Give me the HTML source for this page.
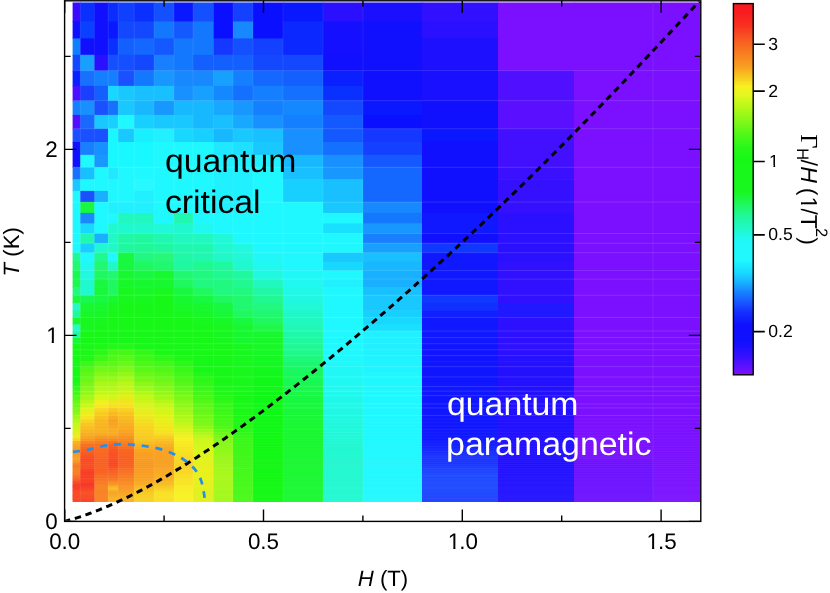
<!DOCTYPE html><html><head><meta charset="utf-8"><style>html,body{margin:0;padding:0;background:#fff;width:830px;height:593px;overflow:hidden}</style></head><body><svg width="830" height="593" viewBox="0 0 830 593" style="display:block" text-rendering="geometricPrecision"><rect x="0" y="0" width="830" height="593" fill="#fff"/><g><rect x="72.6" y="2.50" width="8.3" height="19.55" fill="#3a0aff"/><rect x="72.6" y="21.45" width="8.3" height="17.55" fill="#1010ff"/><rect x="72.6" y="38.40" width="8.3" height="16.97" fill="#1080ff"/><rect x="72.6" y="54.77" width="8.3" height="16.42" fill="#1448ff"/><rect x="72.6" y="70.59" width="8.3" height="15.88" fill="#0a20ff"/><rect x="72.6" y="85.87" width="8.3" height="15.36" fill="#4a10ff"/><rect x="72.6" y="100.63" width="8.3" height="14.86" fill="#1480ff"/><rect x="72.6" y="114.90" width="8.3" height="14.38" fill="#5010ff"/><rect x="72.6" y="128.68" width="8.3" height="13.91" fill="#1a50ff"/><rect x="72.6" y="141.99" width="8.3" height="25.89" fill="#1010ff"/><rect x="72.6" y="167.28" width="8.3" height="12.60" fill="#1a70ff"/><rect x="72.6" y="179.28" width="8.3" height="12.20" fill="#18c8ff"/><rect x="72.6" y="190.88" width="8.3" height="62.38" fill="#20f8ff"/><rect x="72.6" y="252.66" width="8.3" height="9.71" fill="#20f890"/><rect x="72.6" y="261.77" width="8.3" height="9.40" fill="#20f870"/><rect x="72.6" y="270.57" width="8.3" height="17.32" fill="#18f850"/><rect x="72.6" y="287.28" width="8.3" height="8.54" fill="#20f880"/><rect x="72.6" y="295.22" width="8.3" height="8.27" fill="#18f840"/><rect x="72.6" y="302.89" width="8.3" height="8.01" fill="#28f8c8"/><rect x="72.6" y="310.30" width="8.3" height="7.76" fill="#20f8a0"/><rect x="72.6" y="317.45" width="8.3" height="7.51" fill="#18f830"/><rect x="72.6" y="324.36" width="8.3" height="7.28" fill="#28f8c8"/><rect x="72.6" y="331.04" width="8.3" height="7.05" fill="#20f8a0"/><rect x="72.6" y="337.50" width="8.3" height="6.83" fill="#18f838"/><rect x="72.6" y="343.73" width="8.3" height="38.71" fill="#18f818"/><rect x="72.6" y="381.84" width="8.3" height="5.33" fill="#23f818"/><rect x="72.6" y="386.57" width="8.3" height="5.17" fill="#33f818"/><rect x="72.6" y="391.14" width="8.3" height="5.02" fill="#43f818"/><rect x="72.6" y="395.55" width="8.3" height="4.87" fill="#54f818"/><rect x="72.6" y="399.82" width="8.3" height="4.72" fill="#63f818"/><rect x="72.6" y="403.94" width="8.3" height="4.58" fill="#70f818"/><rect x="72.6" y="407.92" width="8.3" height="4.45" fill="#7df818"/><rect x="72.6" y="411.77" width="8.3" height="4.32" fill="#8bf818"/><rect x="72.6" y="415.49" width="8.3" height="4.19" fill="#9ff818"/><rect x="72.6" y="419.08" width="8.3" height="4.07" fill="#b2f818"/><rect x="72.6" y="422.54" width="8.3" height="3.95" fill="#c4f818"/><rect x="72.6" y="425.90" width="8.3" height="3.84" fill="#d0f518"/><rect x="72.6" y="429.13" width="8.3" height="3.73" fill="#d9f218"/><rect x="72.6" y="432.26" width="8.3" height="3.62" fill="#e4ef19"/><rect x="72.6" y="435.28" width="8.3" height="3.52" fill="#f2ea1e"/><rect x="72.6" y="438.20" width="8.3" height="3.42" fill="#f8d420"/><rect x="72.6" y="441.02" width="8.3" height="3.32" fill="#f8b120"/><rect x="72.6" y="443.75" width="8.3" height="3.23" fill="#f8a720"/><rect x="72.6" y="446.38" width="8.3" height="3.14" fill="#f89f20"/><rect x="72.6" y="448.92" width="8.3" height="3.06" fill="#f89620"/><rect x="72.6" y="451.38" width="8.3" height="2.97" fill="#f89120"/><rect x="72.6" y="453.75" width="8.3" height="2.89" fill="#f89620"/><rect x="72.6" y="456.05" width="8.3" height="2.82" fill="#f89a20"/><rect x="72.6" y="458.26" width="8.3" height="2.74" fill="#f89f20"/><rect x="72.6" y="460.40" width="8.3" height="2.67" fill="#f89620"/><rect x="72.6" y="462.47" width="8.3" height="2.60" fill="#f88720"/><rect x="72.6" y="464.47" width="8.3" height="2.53" fill="#f87820"/><rect x="72.6" y="466.40" width="8.3" height="2.46" fill="#f87a20"/><rect x="72.6" y="468.26" width="8.3" height="2.40" fill="#f87d20"/><rect x="72.6" y="470.06" width="8.3" height="2.34" fill="#f87f20"/><rect x="72.6" y="471.80" width="8.3" height="2.28" fill="#f87d20"/><rect x="72.6" y="473.48" width="8.3" height="2.22" fill="#f87620"/><rect x="72.6" y="475.11" width="8.3" height="2.17" fill="#f86e20"/><rect x="72.6" y="476.68" width="8.3" height="2.12" fill="#f86720"/><rect x="72.6" y="478.19" width="8.3" height="2.06" fill="#f86020"/><rect x="72.6" y="479.66" width="8.3" height="2.01" fill="#f85720"/><rect x="72.6" y="481.07" width="8.3" height="1.97" fill="#f84d20"/><rect x="72.6" y="482.44" width="8.3" height="1.92" fill="#f84420"/><rect x="72.6" y="483.76" width="8.3" height="1.88" fill="#f83b20"/><rect x="72.6" y="485.04" width="8.3" height="1.83" fill="#f83220"/><rect x="72.6" y="486.27" width="8.3" height="1.79" fill="#f83320"/><rect x="72.6" y="487.46" width="8.3" height="1.75" fill="#f83820"/><rect x="72.6" y="488.61" width="8.3" height="1.71" fill="#f83c20"/><rect x="72.6" y="489.72" width="8.3" height="1.67" fill="#f84020"/><rect x="72.6" y="490.80" width="8.3" height="1.64" fill="#f84420"/><rect x="72.6" y="491.83" width="8.3" height="2.57" fill="#f84720"/><rect x="72.6" y="493.80" width="8.3" height="1.54" fill="#f84620"/><rect x="72.6" y="494.74" width="8.3" height="1.50" fill="#f84520"/><rect x="72.6" y="495.64" width="8.3" height="1.47" fill="#f84420"/><rect x="72.6" y="496.52" width="8.3" height="1.44" fill="#f84320"/><rect x="72.6" y="497.36" width="8.3" height="1.41" fill="#f84220"/><rect x="72.6" y="498.18" width="8.3" height="1.39" fill="#f84120"/><rect x="72.6" y="498.96" width="8.3" height="3.04" fill="#f84020"/><rect x="80.3" y="2.50" width="14.7" height="19.55" fill="#0a30ff"/><rect x="80.3" y="21.45" width="14.7" height="17.55" fill="#0a40ff"/><rect x="80.3" y="38.40" width="14.7" height="16.97" fill="#1010ff"/><rect x="80.3" y="54.77" width="14.7" height="16.42" fill="#18a0ff"/><rect x="80.3" y="70.59" width="14.7" height="15.88" fill="#1870ff"/><rect x="80.3" y="85.87" width="14.7" height="15.36" fill="#1a40ff"/><rect x="80.3" y="100.63" width="14.7" height="14.86" fill="#1890ff"/><rect x="80.3" y="114.90" width="14.7" height="14.38" fill="#1a68ff"/><rect x="80.3" y="128.68" width="14.7" height="13.91" fill="#1a50ff"/><rect x="80.3" y="141.99" width="14.7" height="13.46" fill="#1880ff"/><rect x="80.3" y="154.85" width="14.7" height="13.03" fill="#20f8ff"/><rect x="80.3" y="167.28" width="14.7" height="12.60" fill="#18c0ff"/><rect x="80.3" y="179.28" width="14.7" height="12.20" fill="#20f8ff"/><rect x="80.3" y="190.88" width="14.7" height="11.80" fill="#1a50ff"/><rect x="80.3" y="202.08" width="14.7" height="11.42" fill="#18f840"/><rect x="80.3" y="212.91" width="14.7" height="11.06" fill="#1a88ff"/><rect x="80.3" y="223.36" width="14.7" height="10.70" fill="#18d8ff"/><rect x="80.3" y="233.47" width="14.7" height="10.36" fill="#20f8b0"/><rect x="80.3" y="243.23" width="14.7" height="10.03" fill="#18d0ff"/><rect x="80.3" y="252.66" width="14.7" height="9.71" fill="#20f8ff"/><rect x="80.3" y="261.77" width="14.7" height="9.40" fill="#20f8f0"/><rect x="80.3" y="270.57" width="14.7" height="9.10" fill="#20f8e0"/><rect x="80.3" y="279.07" width="14.7" height="16.75" fill="#20f8d0"/><rect x="80.3" y="295.22" width="14.7" height="8.27" fill="#18f850"/><rect x="80.3" y="302.89" width="14.7" height="8.01" fill="#18f830"/><rect x="80.3" y="310.30" width="14.7" height="7.76" fill="#18f828"/><rect x="80.3" y="317.45" width="14.7" height="14.19" fill="#18f820"/><rect x="80.3" y="331.04" width="14.7" height="13.29" fill="#18f818"/><rect x="80.3" y="343.73" width="14.7" height="6.62" fill="#19f818"/><rect x="80.3" y="349.75" width="14.7" height="6.42" fill="#1df818"/><rect x="80.3" y="355.57" width="14.7" height="6.22" fill="#22f818"/><rect x="80.3" y="361.19" width="14.7" height="6.03" fill="#3cf818"/><rect x="80.3" y="366.62" width="14.7" height="5.85" fill="#53f818"/><rect x="80.3" y="371.87" width="14.7" height="5.67" fill="#5ff818"/><rect x="80.3" y="376.94" width="14.7" height="5.50" fill="#6bf818"/><rect x="80.3" y="381.84" width="14.7" height="5.33" fill="#79f818"/><rect x="80.3" y="386.57" width="14.7" height="5.17" fill="#87f818"/><rect x="80.3" y="391.14" width="14.7" height="5.02" fill="#95f818"/><rect x="80.3" y="395.55" width="14.7" height="4.87" fill="#a5f818"/><rect x="80.3" y="399.82" width="14.7" height="4.72" fill="#b8f818"/><rect x="80.3" y="403.94" width="14.7" height="4.58" fill="#cbf818"/><rect x="80.3" y="407.92" width="14.7" height="4.45" fill="#dcf619"/><rect x="80.3" y="411.77" width="14.7" height="4.32" fill="#ecee1d"/><rect x="80.3" y="415.49" width="14.7" height="4.19" fill="#f8e420"/><rect x="80.3" y="419.08" width="14.7" height="4.07" fill="#f8d520"/><rect x="80.3" y="422.54" width="14.7" height="3.95" fill="#f8c720"/><rect x="80.3" y="425.90" width="14.7" height="3.84" fill="#f8bf20"/><rect x="80.3" y="429.13" width="14.7" height="3.73" fill="#f8b620"/><rect x="80.3" y="432.26" width="14.7" height="3.62" fill="#f8ae20"/><rect x="80.3" y="435.28" width="14.7" height="3.52" fill="#f8a520"/><rect x="80.3" y="438.20" width="14.7" height="3.42" fill="#f89820"/><rect x="80.3" y="441.02" width="14.7" height="3.32" fill="#f88320"/><rect x="80.3" y="443.75" width="14.7" height="3.23" fill="#f87020"/><rect x="80.3" y="446.38" width="14.7" height="3.14" fill="#f86820"/><rect x="80.3" y="448.92" width="14.7" height="3.06" fill="#f86120"/><rect x="80.3" y="451.38" width="14.7" height="2.97" fill="#f85a20"/><rect x="80.3" y="453.75" width="14.7" height="2.89" fill="#f85320"/><rect x="80.3" y="456.05" width="14.7" height="2.82" fill="#f84d20"/><rect x="80.3" y="458.26" width="14.7" height="2.74" fill="#f84920"/><rect x="80.3" y="460.40" width="14.7" height="2.67" fill="#f84b20"/><rect x="80.3" y="462.47" width="14.7" height="2.60" fill="#f84e20"/><rect x="80.3" y="464.47" width="14.7" height="2.53" fill="#f85020"/><rect x="80.3" y="466.40" width="14.7" height="2.46" fill="#f84920"/><rect x="80.3" y="468.26" width="14.7" height="2.40" fill="#f84220"/><rect x="80.3" y="470.06" width="14.7" height="2.34" fill="#f83c20"/><rect x="80.3" y="471.80" width="14.7" height="2.28" fill="#f83920"/><rect x="80.3" y="473.48" width="14.7" height="2.22" fill="#f83b20"/><rect x="80.3" y="475.11" width="14.7" height="2.17" fill="#f83c20"/><rect x="80.3" y="476.68" width="14.7" height="2.12" fill="#f83e20"/><rect x="80.3" y="478.19" width="14.7" height="2.06" fill="#f84020"/><rect x="80.3" y="479.66" width="14.7" height="2.01" fill="#f83d20"/><rect x="80.3" y="481.07" width="14.7" height="1.97" fill="#f83a20"/><rect x="80.3" y="482.44" width="14.7" height="1.92" fill="#f83620"/><rect x="80.3" y="483.76" width="14.7" height="1.88" fill="#f83320"/><rect x="80.3" y="485.04" width="14.7" height="1.83" fill="#f83020"/><rect x="80.3" y="486.27" width="14.7" height="1.79" fill="#f83520"/><rect x="80.3" y="487.46" width="14.7" height="1.75" fill="#f83b20"/><rect x="80.3" y="488.61" width="14.7" height="1.71" fill="#f84020"/><rect x="80.3" y="489.72" width="14.7" height="1.67" fill="#f84520"/><rect x="80.3" y="490.80" width="14.7" height="1.64" fill="#f84a20"/><rect x="80.3" y="491.83" width="14.7" height="1.60" fill="#f84f20"/><rect x="80.3" y="492.84" width="14.7" height="1.57" fill="#f84e20"/><rect x="80.3" y="493.80" width="14.7" height="1.54" fill="#f84c20"/><rect x="80.3" y="494.74" width="14.7" height="1.50" fill="#f84920"/><rect x="80.3" y="495.64" width="14.7" height="1.47" fill="#f84720"/><rect x="80.3" y="496.52" width="14.7" height="1.44" fill="#f84520"/><rect x="80.3" y="497.36" width="14.7" height="1.41" fill="#f84320"/><rect x="80.3" y="498.18" width="14.7" height="1.39" fill="#f84120"/><rect x="80.3" y="498.96" width="14.7" height="3.04" fill="#f84020"/><rect x="94.4" y="2.50" width="14.3" height="52.87" fill="#1010ff"/><rect x="94.4" y="54.77" width="14.3" height="16.42" fill="#2a10ff"/><rect x="94.4" y="70.59" width="14.3" height="15.88" fill="#1480ff"/><rect x="94.4" y="85.87" width="14.3" height="15.36" fill="#1460ff"/><rect x="94.4" y="100.63" width="14.3" height="14.86" fill="#1a50ff"/><rect x="94.4" y="114.90" width="14.3" height="14.38" fill="#18c8ff"/><rect x="94.4" y="128.68" width="14.3" height="13.91" fill="#1a50ff"/><rect x="94.4" y="141.99" width="14.3" height="13.46" fill="#1890ff"/><rect x="94.4" y="154.85" width="14.3" height="13.03" fill="#1898ff"/><rect x="94.4" y="167.28" width="14.3" height="24.20" fill="#20f8ff"/><rect x="94.4" y="190.88" width="14.3" height="11.80" fill="#18b0ff"/><rect x="94.4" y="202.08" width="14.3" height="31.98" fill="#20f8ff"/><rect x="94.4" y="233.47" width="14.3" height="10.36" fill="#18b0ff"/><rect x="94.4" y="243.23" width="14.3" height="10.03" fill="#20f8d0"/><rect x="94.4" y="252.66" width="14.3" height="9.71" fill="#20f890"/><rect x="94.4" y="261.77" width="14.3" height="9.40" fill="#20f870"/><rect x="94.4" y="270.57" width="14.3" height="9.10" fill="#20f860"/><rect x="94.4" y="279.07" width="14.3" height="8.81" fill="#18f840"/><rect x="94.4" y="287.28" width="14.3" height="8.54" fill="#18f838"/><rect x="94.4" y="295.22" width="14.3" height="8.27" fill="#18f840"/><rect x="94.4" y="302.89" width="14.3" height="8.01" fill="#18f830"/><rect x="94.4" y="310.30" width="14.3" height="7.76" fill="#18f828"/><rect x="94.4" y="317.45" width="14.3" height="7.51" fill="#18f820"/><rect x="94.4" y="324.36" width="14.3" height="19.97" fill="#18f818"/><rect x="94.4" y="343.73" width="14.3" height="6.62" fill="#1df818"/><rect x="94.4" y="349.75" width="14.3" height="6.42" fill="#2df818"/><rect x="94.4" y="355.57" width="14.3" height="6.22" fill="#3ff818"/><rect x="94.4" y="361.19" width="14.3" height="6.03" fill="#58f818"/><rect x="94.4" y="366.62" width="14.3" height="5.85" fill="#71f818"/><rect x="94.4" y="371.87" width="14.3" height="5.67" fill="#85f818"/><rect x="94.4" y="376.94" width="14.3" height="5.50" fill="#98f818"/><rect x="94.4" y="381.84" width="14.3" height="5.33" fill="#a9f818"/><rect x="94.4" y="386.57" width="14.3" height="5.17" fill="#b7f818"/><rect x="94.4" y="391.14" width="14.3" height="5.02" fill="#c5f818"/><rect x="94.4" y="395.55" width="14.3" height="4.87" fill="#d5f719"/><rect x="94.4" y="399.82" width="14.3" height="4.72" fill="#ecf21e"/><rect x="94.4" y="403.94" width="14.3" height="4.58" fill="#f8e820"/><rect x="94.4" y="407.92" width="14.3" height="4.45" fill="#f8d820"/><rect x="94.4" y="411.77" width="14.3" height="4.32" fill="#f8cb20"/><rect x="94.4" y="415.49" width="14.3" height="4.19" fill="#f8c220"/><rect x="94.4" y="419.08" width="14.3" height="4.07" fill="#f8b820"/><rect x="94.4" y="422.54" width="14.3" height="3.95" fill="#f8b620"/><rect x="94.4" y="425.90" width="14.3" height="3.84" fill="#f8b420"/><rect x="94.4" y="429.13" width="14.3" height="3.73" fill="#f8b220"/><rect x="94.4" y="432.26" width="14.3" height="3.62" fill="#f8ac20"/><rect x="94.4" y="435.28" width="14.3" height="3.52" fill="#f89a20"/><rect x="94.4" y="438.20" width="14.3" height="3.42" fill="#f88b20"/><rect x="94.4" y="441.02" width="14.3" height="3.32" fill="#f87d20"/><rect x="94.4" y="443.75" width="14.3" height="3.23" fill="#f87020"/><rect x="94.4" y="446.38" width="14.3" height="3.14" fill="#f86d20"/><rect x="94.4" y="448.92" width="14.3" height="3.06" fill="#f86a20"/><rect x="94.4" y="451.38" width="14.3" height="2.97" fill="#f86720"/><rect x="94.4" y="453.75" width="14.3" height="2.89" fill="#f86520"/><rect x="94.4" y="456.05" width="14.3" height="2.82" fill="#f86220"/><rect x="94.4" y="458.26" width="14.3" height="14.14" fill="#f86020"/><rect x="94.4" y="471.80" width="14.3" height="2.28" fill="#f86120"/><rect x="94.4" y="473.48" width="14.3" height="2.22" fill="#f86520"/><rect x="94.4" y="475.11" width="14.3" height="2.17" fill="#f86920"/><rect x="94.4" y="476.68" width="14.3" height="2.12" fill="#f86c20"/><rect x="94.4" y="478.19" width="14.3" height="2.06" fill="#f87020"/><rect x="94.4" y="479.66" width="14.3" height="2.01" fill="#f87320"/><rect x="94.4" y="481.07" width="14.3" height="1.97" fill="#f87620"/><rect x="94.4" y="482.44" width="14.3" height="1.92" fill="#f87a20"/><rect x="94.4" y="483.76" width="14.3" height="1.88" fill="#f87d20"/><rect x="94.4" y="485.04" width="14.3" height="16.96" fill="#f88020"/><rect x="108.1" y="2.50" width="10.6" height="19.55" fill="#0a2cff"/><rect x="108.1" y="21.45" width="10.6" height="17.55" fill="#0a18ff"/><rect x="108.1" y="38.40" width="10.6" height="16.97" fill="#0a30ff"/><rect x="108.1" y="54.77" width="10.6" height="16.42" fill="#1450ff"/><rect x="108.1" y="70.59" width="10.6" height="15.88" fill="#1480ff"/><rect x="108.1" y="85.87" width="10.6" height="15.36" fill="#18d8ff"/><rect x="108.1" y="100.63" width="10.6" height="14.86" fill="#1870ff"/><rect x="108.1" y="114.90" width="10.6" height="14.38" fill="#18d0ff"/><rect x="108.1" y="128.68" width="10.6" height="39.20" fill="#18f8ff"/><rect x="108.1" y="167.28" width="10.6" height="12.60" fill="#20e8ff"/><rect x="108.1" y="179.28" width="10.6" height="23.40" fill="#20f8ff"/><rect x="108.1" y="202.08" width="10.6" height="11.42" fill="#20f0ff"/><rect x="108.1" y="212.91" width="10.6" height="11.06" fill="#20f8ff"/><rect x="108.1" y="223.36" width="10.6" height="10.70" fill="#20f8d0"/><rect x="108.1" y="233.47" width="10.6" height="19.79" fill="#20f8c8"/><rect x="108.1" y="252.66" width="10.6" height="9.71" fill="#20f8ff"/><rect x="108.1" y="261.77" width="10.6" height="9.40" fill="#20f8c8"/><rect x="108.1" y="270.57" width="10.6" height="9.10" fill="#20f870"/><rect x="108.1" y="279.07" width="10.6" height="16.75" fill="#20f860"/><rect x="108.1" y="295.22" width="10.6" height="8.27" fill="#18f830"/><rect x="108.1" y="302.89" width="10.6" height="8.01" fill="#18f820"/><rect x="108.1" y="310.30" width="10.6" height="34.04" fill="#18f818"/><rect x="108.1" y="343.73" width="10.6" height="6.62" fill="#24f818"/><rect x="108.1" y="349.75" width="10.6" height="6.42" fill="#44f818"/><rect x="108.1" y="355.57" width="10.6" height="6.22" fill="#50f818"/><rect x="108.1" y="361.19" width="10.6" height="6.03" fill="#5cf818"/><rect x="108.1" y="366.62" width="10.6" height="5.85" fill="#6df818"/><rect x="108.1" y="371.87" width="10.6" height="5.67" fill="#83f818"/><rect x="108.1" y="376.94" width="10.6" height="5.50" fill="#97f818"/><rect x="108.1" y="381.84" width="10.6" height="5.33" fill="#a9f818"/><rect x="108.1" y="386.57" width="10.6" height="5.17" fill="#b7f818"/><rect x="108.1" y="391.14" width="10.6" height="5.02" fill="#c5f818"/><rect x="108.1" y="395.55" width="10.6" height="4.87" fill="#d4f519"/><rect x="108.1" y="399.82" width="10.6" height="4.72" fill="#e7ea1d"/><rect x="108.1" y="403.94" width="10.6" height="4.58" fill="#f8df20"/><rect x="108.1" y="407.92" width="10.6" height="4.45" fill="#f8ca20"/><rect x="108.1" y="411.77" width="10.6" height="4.32" fill="#f8ba20"/><rect x="108.1" y="415.49" width="10.6" height="4.19" fill="#f8ad20"/><rect x="108.1" y="419.08" width="10.6" height="4.07" fill="#f8a120"/><rect x="108.1" y="422.54" width="10.6" height="3.95" fill="#f8a420"/><rect x="108.1" y="425.90" width="10.6" height="3.84" fill="#f8a920"/><rect x="108.1" y="429.13" width="10.6" height="3.73" fill="#f8ad20"/><rect x="108.1" y="432.26" width="10.6" height="3.62" fill="#f8ac20"/><rect x="108.1" y="435.28" width="10.6" height="3.52" fill="#f89a20"/><rect x="108.1" y="438.20" width="10.6" height="3.42" fill="#f88820"/><rect x="108.1" y="441.02" width="10.6" height="3.32" fill="#f87320"/><rect x="108.1" y="443.75" width="10.6" height="3.23" fill="#f86020"/><rect x="108.1" y="446.38" width="10.6" height="3.14" fill="#f85a20"/><rect x="108.1" y="448.92" width="10.6" height="3.06" fill="#f85420"/><rect x="108.1" y="451.38" width="10.6" height="2.97" fill="#f85020"/><rect x="108.1" y="453.75" width="10.6" height="2.89" fill="#f84e20"/><rect x="108.1" y="456.05" width="10.6" height="2.82" fill="#f84d20"/><rect x="108.1" y="458.26" width="10.6" height="2.74" fill="#f84c20"/><rect x="108.1" y="460.40" width="10.6" height="2.67" fill="#f84a20"/><rect x="108.1" y="462.47" width="10.6" height="2.60" fill="#f84920"/><rect x="108.1" y="464.47" width="10.6" height="2.53" fill="#f84820"/><rect x="108.1" y="466.40" width="10.6" height="2.46" fill="#f84f20"/><rect x="108.1" y="468.26" width="10.6" height="2.40" fill="#f85620"/><rect x="108.1" y="470.06" width="10.6" height="2.34" fill="#f85c20"/><rect x="108.1" y="471.80" width="10.6" height="2.28" fill="#f86120"/><rect x="108.1" y="473.48" width="10.6" height="2.22" fill="#f86520"/><rect x="108.1" y="475.11" width="10.6" height="2.17" fill="#f86920"/><rect x="108.1" y="476.68" width="10.6" height="2.12" fill="#f86c20"/><rect x="108.1" y="478.19" width="10.6" height="2.06" fill="#f87020"/><rect x="108.1" y="479.66" width="10.6" height="2.01" fill="#f87a20"/><rect x="108.1" y="481.07" width="10.6" height="1.97" fill="#f88320"/><rect x="108.1" y="482.44" width="10.6" height="1.92" fill="#f88d20"/><rect x="108.1" y="483.76" width="10.6" height="1.88" fill="#f89620"/><rect x="108.1" y="485.04" width="10.6" height="1.83" fill="#f89f20"/><rect x="108.1" y="486.27" width="10.6" height="1.79" fill="#f8ad20"/><rect x="108.1" y="487.46" width="10.6" height="1.75" fill="#f8ba20"/><rect x="108.1" y="488.61" width="10.6" height="1.71" fill="#f8bb20"/><rect x="108.1" y="489.72" width="10.6" height="1.67" fill="#f8b220"/><rect x="108.1" y="490.80" width="10.6" height="1.64" fill="#f8a920"/><rect x="108.1" y="491.83" width="10.6" height="1.60" fill="#f8a120"/><rect x="108.1" y="492.84" width="10.6" height="1.57" fill="#f8a220"/><rect x="108.1" y="493.80" width="10.6" height="1.54" fill="#f8a420"/><rect x="108.1" y="494.74" width="10.6" height="1.50" fill="#f8a720"/><rect x="108.1" y="495.64" width="10.6" height="1.47" fill="#f8a920"/><rect x="108.1" y="496.52" width="10.6" height="1.44" fill="#f8ab20"/><rect x="108.1" y="497.36" width="10.6" height="1.41" fill="#f8ad20"/><rect x="108.1" y="498.18" width="10.6" height="1.39" fill="#f8af20"/><rect x="108.1" y="498.96" width="10.6" height="3.04" fill="#f8b020"/><rect x="118.1" y="2.50" width="16.6" height="19.55" fill="#1040ff"/><rect x="118.1" y="21.45" width="16.6" height="17.55" fill="#1448ff"/><rect x="118.1" y="38.40" width="16.6" height="16.97" fill="#1460ff"/><rect x="118.1" y="54.77" width="16.6" height="16.42" fill="#1450ff"/><rect x="118.1" y="70.59" width="16.6" height="15.88" fill="#1a50ff"/><rect x="118.1" y="85.87" width="16.6" height="29.63" fill="#18c8ff"/><rect x="118.1" y="114.90" width="16.6" height="14.38" fill="#20f8ff"/><rect x="118.1" y="128.68" width="16.6" height="13.91" fill="#18c8ff"/><rect x="118.1" y="141.99" width="16.6" height="25.89" fill="#18f8ff"/><rect x="118.1" y="167.28" width="16.6" height="35.41" fill="#20f8ff"/><rect x="118.1" y="202.08" width="16.6" height="11.42" fill="#20f0ff"/><rect x="118.1" y="212.91" width="16.6" height="11.06" fill="#20f8c0"/><rect x="118.1" y="223.36" width="16.6" height="10.70" fill="#20f8d0"/><rect x="118.1" y="233.47" width="16.6" height="10.36" fill="#20f8a8"/><rect x="118.1" y="243.23" width="16.6" height="10.03" fill="#20f8a0"/><rect x="118.1" y="252.66" width="16.6" height="18.51" fill="#18f840"/><rect x="118.1" y="270.57" width="16.6" height="9.10" fill="#18f830"/><rect x="118.1" y="279.07" width="16.6" height="8.81" fill="#18f828"/><rect x="118.1" y="287.28" width="16.6" height="16.20" fill="#18f820"/><rect x="118.1" y="302.89" width="16.6" height="41.44" fill="#18f818"/><rect x="118.1" y="343.73" width="16.6" height="6.62" fill="#24f818"/><rect x="118.1" y="349.75" width="16.6" height="6.42" fill="#45f818"/><rect x="118.1" y="355.57" width="16.6" height="6.22" fill="#58f818"/><rect x="118.1" y="361.19" width="16.6" height="6.03" fill="#69f818"/><rect x="118.1" y="366.62" width="16.6" height="5.85" fill="#7df818"/><rect x="118.1" y="371.87" width="16.6" height="5.67" fill="#93f818"/><rect x="118.1" y="376.94" width="16.6" height="5.50" fill="#a7f818"/><rect x="118.1" y="381.84" width="16.6" height="5.33" fill="#b9f718"/><rect x="118.1" y="386.57" width="16.6" height="5.17" fill="#c7f418"/><rect x="118.1" y="391.14" width="16.6" height="5.02" fill="#d5f218"/><rect x="118.1" y="395.55" width="16.6" height="4.87" fill="#e3ee19"/><rect x="118.1" y="399.82" width="16.6" height="4.72" fill="#eee71d"/><rect x="118.1" y="403.94" width="16.6" height="4.58" fill="#f8e020"/><rect x="118.1" y="407.92" width="16.6" height="4.45" fill="#f8d220"/><rect x="118.1" y="411.77" width="16.6" height="4.32" fill="#f8c420"/><rect x="118.1" y="415.49" width="16.6" height="4.19" fill="#f8bc20"/><rect x="118.1" y="419.08" width="16.6" height="4.07" fill="#f8b620"/><rect x="118.1" y="422.54" width="16.6" height="3.95" fill="#f8b020"/><rect x="118.1" y="425.90" width="16.6" height="3.84" fill="#f8aa20"/><rect x="118.1" y="429.13" width="16.6" height="3.73" fill="#f8a420"/><rect x="118.1" y="432.26" width="16.6" height="3.62" fill="#f89d20"/><rect x="118.1" y="435.28" width="16.6" height="3.52" fill="#f89320"/><rect x="118.1" y="438.20" width="16.6" height="3.42" fill="#f88a20"/><rect x="118.1" y="441.02" width="16.6" height="3.32" fill="#f88020"/><rect x="118.1" y="443.75" width="16.6" height="3.23" fill="#f87720"/><rect x="118.1" y="446.38" width="16.6" height="3.14" fill="#f86f20"/><rect x="118.1" y="448.92" width="16.6" height="3.06" fill="#f86620"/><rect x="118.1" y="451.38" width="16.6" height="15.62" fill="#f86020"/><rect x="118.1" y="466.40" width="16.6" height="2.46" fill="#f86420"/><rect x="118.1" y="468.26" width="16.6" height="2.40" fill="#f86920"/><rect x="118.1" y="470.06" width="16.6" height="2.34" fill="#f86d20"/><rect x="118.1" y="471.80" width="16.6" height="2.28" fill="#f87120"/><rect x="118.1" y="473.48" width="16.6" height="2.22" fill="#f87520"/><rect x="118.1" y="475.11" width="16.6" height="2.17" fill="#f87920"/><rect x="118.1" y="476.68" width="16.6" height="2.12" fill="#f87c20"/><rect x="118.1" y="478.19" width="16.6" height="2.06" fill="#f88020"/><rect x="118.1" y="479.66" width="16.6" height="2.01" fill="#f88320"/><rect x="118.1" y="481.07" width="16.6" height="1.97" fill="#f88620"/><rect x="118.1" y="482.44" width="16.6" height="1.92" fill="#f88a20"/><rect x="118.1" y="483.76" width="16.6" height="1.88" fill="#f88d20"/><rect x="118.1" y="485.04" width="16.6" height="1.83" fill="#f89020"/><rect x="118.1" y="486.27" width="16.6" height="1.79" fill="#f89320"/><rect x="118.1" y="487.46" width="16.6" height="1.75" fill="#f89520"/><rect x="118.1" y="488.61" width="16.6" height="1.71" fill="#f89820"/><rect x="118.1" y="489.72" width="16.6" height="1.67" fill="#f89b20"/><rect x="118.1" y="490.80" width="16.6" height="1.64" fill="#f89d20"/><rect x="118.1" y="491.83" width="16.6" height="1.60" fill="#f8a020"/><rect x="118.1" y="492.84" width="16.6" height="1.57" fill="#f8a220"/><rect x="118.1" y="493.80" width="16.6" height="1.54" fill="#f8a420"/><rect x="118.1" y="494.74" width="16.6" height="1.50" fill="#f8a720"/><rect x="118.1" y="495.64" width="16.6" height="1.47" fill="#f8a920"/><rect x="118.1" y="496.52" width="16.6" height="1.44" fill="#f8ab20"/><rect x="118.1" y="497.36" width="16.6" height="1.41" fill="#f8ad20"/><rect x="118.1" y="498.18" width="16.6" height="1.39" fill="#f8af20"/><rect x="118.1" y="498.96" width="16.6" height="3.04" fill="#f8b020"/><rect x="134.1" y="2.50" width="20.5" height="19.55" fill="#0a30ff"/><rect x="134.1" y="21.45" width="20.5" height="17.55" fill="#1448ff"/><rect x="134.1" y="38.40" width="20.5" height="16.97" fill="#1468ff"/><rect x="134.1" y="54.77" width="20.5" height="16.42" fill="#1448ff"/><rect x="134.1" y="70.59" width="20.5" height="15.88" fill="#1478ff"/><rect x="134.1" y="85.87" width="20.5" height="15.36" fill="#18c0ff"/><rect x="134.1" y="100.63" width="20.5" height="14.86" fill="#18b8ff"/><rect x="134.1" y="114.90" width="20.5" height="14.38" fill="#18d0ff"/><rect x="134.1" y="128.68" width="20.5" height="13.91" fill="#18f0ff"/><rect x="134.1" y="141.99" width="20.5" height="25.89" fill="#18f8ff"/><rect x="134.1" y="167.28" width="20.5" height="12.60" fill="#20f8ff"/><rect x="134.1" y="179.28" width="20.5" height="12.20" fill="#28f8ff"/><rect x="134.1" y="190.88" width="20.5" height="22.63" fill="#20f0ff"/><rect x="134.1" y="212.91" width="20.5" height="11.06" fill="#20f8c0"/><rect x="134.1" y="223.36" width="20.5" height="10.70" fill="#20f8d0"/><rect x="134.1" y="233.47" width="20.5" height="10.36" fill="#20f8a0"/><rect x="134.1" y="243.23" width="20.5" height="10.03" fill="#20f898"/><rect x="134.1" y="252.66" width="20.5" height="9.71" fill="#20f880"/><rect x="134.1" y="261.77" width="20.5" height="9.40" fill="#20f860"/><rect x="134.1" y="270.57" width="20.5" height="9.10" fill="#18f840"/><rect x="134.1" y="279.07" width="20.5" height="8.81" fill="#18f830"/><rect x="134.1" y="287.28" width="20.5" height="8.54" fill="#18f828"/><rect x="134.1" y="295.22" width="20.5" height="8.27" fill="#18f820"/><rect x="134.1" y="302.89" width="20.5" height="47.47" fill="#18f818"/><rect x="134.1" y="349.75" width="20.5" height="6.42" fill="#34f818"/><rect x="134.1" y="355.57" width="20.5" height="6.22" fill="#40f818"/><rect x="134.1" y="361.19" width="20.5" height="6.03" fill="#4cf818"/><rect x="134.1" y="366.62" width="20.5" height="5.85" fill="#5af818"/><rect x="134.1" y="371.87" width="20.5" height="5.67" fill="#6af818"/><rect x="134.1" y="376.94" width="20.5" height="5.50" fill="#79f818"/><rect x="134.1" y="381.84" width="20.5" height="5.33" fill="#8bf818"/><rect x="134.1" y="386.57" width="20.5" height="5.17" fill="#9ff818"/><rect x="134.1" y="391.14" width="20.5" height="5.02" fill="#b2f818"/><rect x="134.1" y="395.55" width="20.5" height="4.87" fill="#c3f719"/><rect x="134.1" y="399.82" width="20.5" height="4.72" fill="#cef51b"/><rect x="134.1" y="403.94" width="20.5" height="4.58" fill="#d8f31d"/><rect x="134.1" y="407.92" width="20.5" height="4.45" fill="#e3f11f"/><rect x="134.1" y="411.77" width="20.5" height="4.32" fill="#eaec20"/><rect x="134.1" y="415.49" width="20.5" height="4.19" fill="#efe520"/><rect x="134.1" y="419.08" width="20.5" height="4.07" fill="#f4de20"/><rect x="134.1" y="422.54" width="20.5" height="3.95" fill="#f8d820"/><rect x="134.1" y="425.90" width="20.5" height="3.84" fill="#f8d420"/><rect x="134.1" y="429.13" width="20.5" height="3.73" fill="#f8d120"/><rect x="134.1" y="432.26" width="20.5" height="3.62" fill="#f8ce20"/><rect x="134.1" y="435.28" width="20.5" height="3.52" fill="#f8cb20"/><rect x="134.1" y="438.20" width="20.5" height="3.42" fill="#f8c820"/><rect x="134.1" y="441.02" width="20.5" height="3.32" fill="#f8be20"/><rect x="134.1" y="443.75" width="20.5" height="3.23" fill="#f8b420"/><rect x="134.1" y="446.38" width="20.5" height="3.14" fill="#f8ac20"/><rect x="134.1" y="448.92" width="20.5" height="3.06" fill="#f8a520"/><rect x="134.1" y="451.38" width="20.5" height="2.97" fill="#f8a020"/><rect x="134.1" y="453.75" width="20.5" height="2.89" fill="#f89e20"/><rect x="134.1" y="456.05" width="20.5" height="2.82" fill="#f89d20"/><rect x="134.1" y="458.26" width="20.5" height="2.74" fill="#f89c20"/><rect x="134.1" y="460.40" width="20.5" height="2.67" fill="#f89a20"/><rect x="134.1" y="462.47" width="20.5" height="2.60" fill="#f89920"/><rect x="134.1" y="464.47" width="20.5" height="2.53" fill="#f89820"/><rect x="134.1" y="466.40" width="20.5" height="2.46" fill="#f89920"/><rect x="134.1" y="468.26" width="20.5" height="2.40" fill="#f89a20"/><rect x="134.1" y="470.06" width="20.5" height="2.34" fill="#f89b20"/><rect x="134.1" y="471.80" width="20.5" height="2.28" fill="#f89c20"/><rect x="134.1" y="473.48" width="20.5" height="2.22" fill="#f89d20"/><rect x="134.1" y="475.11" width="20.5" height="2.17" fill="#f89e20"/><rect x="134.1" y="476.68" width="20.5" height="2.12" fill="#f89f20"/><rect x="134.1" y="478.19" width="20.5" height="2.06" fill="#f8a020"/><rect x="134.1" y="479.66" width="20.5" height="2.01" fill="#f8a320"/><rect x="134.1" y="481.07" width="20.5" height="1.97" fill="#f8a620"/><rect x="134.1" y="482.44" width="20.5" height="1.92" fill="#f8aa20"/><rect x="134.1" y="483.76" width="20.5" height="1.88" fill="#f8ad20"/><rect x="134.1" y="485.04" width="20.5" height="1.83" fill="#f8b020"/><rect x="134.1" y="486.27" width="20.5" height="1.79" fill="#f8b420"/><rect x="134.1" y="487.46" width="20.5" height="1.75" fill="#f8b820"/><rect x="134.1" y="488.61" width="20.5" height="1.71" fill="#f8bc20"/><rect x="134.1" y="489.72" width="20.5" height="1.67" fill="#f8c020"/><rect x="134.1" y="490.80" width="20.5" height="1.64" fill="#f8c420"/><rect x="134.1" y="491.83" width="20.5" height="1.60" fill="#f8c720"/><rect x="134.1" y="492.84" width="20.5" height="1.57" fill="#f8c920"/><rect x="134.1" y="493.80" width="20.5" height="1.54" fill="#f8ca20"/><rect x="134.1" y="494.74" width="20.5" height="1.50" fill="#f8cb20"/><rect x="134.1" y="495.64" width="20.5" height="1.47" fill="#f8cc20"/><rect x="134.1" y="496.52" width="20.5" height="1.44" fill="#f8cd20"/><rect x="134.1" y="497.36" width="20.5" height="1.41" fill="#f8ce20"/><rect x="134.1" y="498.18" width="20.5" height="1.39" fill="#f8cf20"/><rect x="134.1" y="498.96" width="20.5" height="3.04" fill="#f8d020"/><rect x="154.0" y="2.50" width="20.6" height="19.55" fill="#1450ff"/><rect x="154.0" y="21.45" width="20.6" height="17.55" fill="#1478ff"/><rect x="154.0" y="38.40" width="20.6" height="16.97" fill="#1458ff"/><rect x="154.0" y="54.77" width="20.6" height="16.42" fill="#1880ff"/><rect x="154.0" y="70.59" width="20.6" height="15.88" fill="#1898ff"/><rect x="154.0" y="85.87" width="20.6" height="15.36" fill="#18c0ff"/><rect x="154.0" y="100.63" width="20.6" height="14.86" fill="#1898ff"/><rect x="154.0" y="114.90" width="20.6" height="14.38" fill="#18c8ff"/><rect x="154.0" y="128.68" width="20.6" height="13.91" fill="#20f0ff"/><rect x="154.0" y="141.99" width="20.6" height="81.97" fill="#20f8ff"/><rect x="154.0" y="223.36" width="20.6" height="10.70" fill="#20f8d8"/><rect x="154.0" y="233.47" width="20.6" height="10.36" fill="#20f8b0"/><rect x="154.0" y="243.23" width="20.6" height="10.03" fill="#20f8a0"/><rect x="154.0" y="252.66" width="20.6" height="9.71" fill="#28f878"/><rect x="154.0" y="261.77" width="20.6" height="9.40" fill="#20f870"/><rect x="154.0" y="270.57" width="20.6" height="17.32" fill="#18f830"/><rect x="154.0" y="287.28" width="20.6" height="8.54" fill="#18f820"/><rect x="154.0" y="295.22" width="20.6" height="55.13" fill="#18f818"/><rect x="154.0" y="349.75" width="20.6" height="6.42" fill="#1df818"/><rect x="154.0" y="355.57" width="20.6" height="6.22" fill="#2ff818"/><rect x="154.0" y="361.19" width="20.6" height="6.03" fill="#41f818"/><rect x="154.0" y="366.62" width="20.6" height="5.85" fill="#50f818"/><rect x="154.0" y="371.87" width="20.6" height="5.67" fill="#5ef818"/><rect x="154.0" y="376.94" width="20.6" height="5.50" fill="#6bf818"/><rect x="154.0" y="381.84" width="20.6" height="5.33" fill="#79f818"/><rect x="154.0" y="386.57" width="20.6" height="5.17" fill="#87f818"/><rect x="154.0" y="391.14" width="20.6" height="5.02" fill="#95f818"/><rect x="154.0" y="395.55" width="20.6" height="4.87" fill="#a4f818"/><rect x="154.0" y="399.82" width="20.6" height="4.72" fill="#b5f818"/><rect x="154.0" y="403.94" width="20.6" height="4.58" fill="#c5f818"/><rect x="154.0" y="407.92" width="20.6" height="4.45" fill="#d2f718"/><rect x="154.0" y="411.77" width="20.6" height="4.32" fill="#d9f518"/><rect x="154.0" y="415.49" width="20.6" height="4.19" fill="#e1f218"/><rect x="154.0" y="419.08" width="20.6" height="4.07" fill="#e8f018"/><rect x="154.0" y="422.54" width="20.6" height="3.95" fill="#ecec1a"/><rect x="154.0" y="425.90" width="20.6" height="3.84" fill="#f1e71c"/><rect x="154.0" y="429.13" width="20.6" height="3.73" fill="#f5e31e"/><rect x="154.0" y="432.26" width="20.6" height="3.62" fill="#f8dd20"/><rect x="154.0" y="435.28" width="20.6" height="3.52" fill="#f8d020"/><rect x="154.0" y="438.20" width="20.6" height="3.42" fill="#f8c420"/><rect x="154.0" y="441.02" width="20.6" height="3.32" fill="#f8ba20"/><rect x="154.0" y="443.75" width="20.6" height="3.23" fill="#f8b020"/><rect x="154.0" y="446.38" width="20.6" height="3.14" fill="#f8aa20"/><rect x="154.0" y="448.92" width="20.6" height="3.06" fill="#f8a420"/><rect x="154.0" y="451.38" width="20.6" height="15.62" fill="#f8a020"/><rect x="154.0" y="466.40" width="20.6" height="2.46" fill="#f8a220"/><rect x="154.0" y="468.26" width="20.6" height="2.40" fill="#f8a420"/><rect x="154.0" y="470.06" width="20.6" height="2.34" fill="#f8a620"/><rect x="154.0" y="471.80" width="20.6" height="2.28" fill="#f8a820"/><rect x="154.0" y="473.48" width="20.6" height="2.22" fill="#f8aa20"/><rect x="154.0" y="475.11" width="20.6" height="2.17" fill="#f8ac20"/><rect x="154.0" y="476.68" width="20.6" height="2.12" fill="#f8ae20"/><rect x="154.0" y="478.19" width="20.6" height="2.06" fill="#f8b020"/><rect x="154.0" y="479.66" width="20.6" height="2.01" fill="#f8b320"/><rect x="154.0" y="481.07" width="20.6" height="1.97" fill="#f8b620"/><rect x="154.0" y="482.44" width="20.6" height="1.92" fill="#f8ba20"/><rect x="154.0" y="483.76" width="20.6" height="1.88" fill="#f8bd20"/><rect x="154.0" y="485.04" width="20.6" height="1.83" fill="#f8c020"/><rect x="154.0" y="486.27" width="20.6" height="1.79" fill="#f8c520"/><rect x="154.0" y="487.46" width="20.6" height="1.75" fill="#f8cb20"/><rect x="154.0" y="488.61" width="20.6" height="1.71" fill="#f8d020"/><rect x="154.0" y="489.72" width="20.6" height="1.67" fill="#f8d520"/><rect x="154.0" y="490.80" width="20.6" height="1.64" fill="#f8da20"/><rect x="154.0" y="491.83" width="20.6" height="1.60" fill="#f8df20"/><rect x="154.0" y="492.84" width="20.6" height="9.16" fill="#f8e020"/><rect x="174.0" y="2.50" width="19.6" height="19.55" fill="#0a18ff"/><rect x="174.0" y="21.45" width="19.6" height="17.55" fill="#1458ff"/><rect x="174.0" y="38.40" width="19.6" height="32.79" fill="#1478ff"/><rect x="174.0" y="70.59" width="19.6" height="15.88" fill="#1888ff"/><rect x="174.0" y="85.87" width="19.6" height="15.36" fill="#1890ff"/><rect x="174.0" y="100.63" width="19.6" height="14.86" fill="#18b8ff"/><rect x="174.0" y="114.90" width="19.6" height="14.38" fill="#18c8ff"/><rect x="174.0" y="128.68" width="19.6" height="13.91" fill="#18d8ff"/><rect x="174.0" y="141.99" width="19.6" height="71.52" fill="#20f8ff"/><rect x="174.0" y="212.91" width="19.6" height="11.06" fill="#20f8b0"/><rect x="174.0" y="223.36" width="19.6" height="10.70" fill="#20f8d0"/><rect x="174.0" y="233.47" width="19.6" height="10.36" fill="#20f8c0"/><rect x="174.0" y="243.23" width="19.6" height="10.03" fill="#20f8b0"/><rect x="174.0" y="252.66" width="19.6" height="9.71" fill="#20f8a8"/><rect x="174.0" y="261.77" width="19.6" height="9.40" fill="#20f8a0"/><rect x="174.0" y="270.57" width="19.6" height="9.10" fill="#20f870"/><rect x="174.0" y="279.07" width="19.6" height="8.81" fill="#20f860"/><rect x="174.0" y="287.28" width="19.6" height="8.54" fill="#18f840"/><rect x="174.0" y="295.22" width="19.6" height="8.27" fill="#18f830"/><rect x="174.0" y="302.89" width="19.6" height="8.01" fill="#18f828"/><rect x="174.0" y="310.30" width="19.6" height="7.76" fill="#18f820"/><rect x="174.0" y="317.45" width="19.6" height="38.72" fill="#18f818"/><rect x="174.0" y="355.57" width="19.6" height="6.22" fill="#1ef818"/><rect x="174.0" y="361.19" width="19.6" height="6.03" fill="#2bf818"/><rect x="174.0" y="366.62" width="19.6" height="5.85" fill="#37f818"/><rect x="174.0" y="371.87" width="19.6" height="5.67" fill="#41f818"/><rect x="174.0" y="376.94" width="19.6" height="5.50" fill="#4cf818"/><rect x="174.0" y="381.84" width="19.6" height="5.33" fill="#57f818"/><rect x="174.0" y="386.57" width="19.6" height="5.17" fill="#63f818"/><rect x="174.0" y="391.14" width="19.6" height="5.02" fill="#6ff818"/><rect x="174.0" y="395.55" width="19.6" height="4.87" fill="#7bf818"/><rect x="174.0" y="399.82" width="19.6" height="4.72" fill="#86f818"/><rect x="174.0" y="403.94" width="19.6" height="4.58" fill="#90f818"/><rect x="174.0" y="407.92" width="19.6" height="4.45" fill="#9bf818"/><rect x="174.0" y="411.77" width="19.6" height="4.32" fill="#a5f818"/><rect x="174.0" y="415.49" width="19.6" height="4.19" fill="#aef818"/><rect x="174.0" y="419.08" width="19.6" height="4.07" fill="#b8f818"/><rect x="174.0" y="422.54" width="19.6" height="3.95" fill="#c4f719"/><rect x="174.0" y="425.90" width="19.6" height="3.84" fill="#d0f51b"/><rect x="174.0" y="429.13" width="19.6" height="3.73" fill="#dbf41c"/><rect x="174.0" y="432.26" width="19.6" height="3.62" fill="#e7f21e"/><rect x="174.0" y="435.28" width="19.6" height="3.52" fill="#f2f11f"/><rect x="174.0" y="438.20" width="19.6" height="3.42" fill="#f8ef20"/><rect x="174.0" y="441.02" width="19.6" height="3.32" fill="#f8eb20"/><rect x="174.0" y="443.75" width="19.6" height="3.23" fill="#f8e820"/><rect x="174.0" y="446.38" width="19.6" height="3.14" fill="#f8e520"/><rect x="174.0" y="448.92" width="19.6" height="3.06" fill="#f8e220"/><rect x="174.0" y="451.38" width="19.6" height="2.97" fill="#f8df20"/><rect x="174.0" y="453.75" width="19.6" height="2.89" fill="#f8dd20"/><rect x="174.0" y="456.05" width="19.6" height="2.82" fill="#f8da20"/><rect x="174.0" y="458.26" width="19.6" height="2.74" fill="#f8d720"/><rect x="174.0" y="460.40" width="19.6" height="2.67" fill="#f8d520"/><rect x="174.0" y="462.47" width="19.6" height="2.60" fill="#f8d220"/><rect x="174.0" y="464.47" width="19.6" height="2.53" fill="#f8d020"/><rect x="174.0" y="466.40" width="19.6" height="2.46" fill="#f8d220"/><rect x="174.0" y="468.26" width="19.6" height="2.40" fill="#f8d420"/><rect x="174.0" y="470.06" width="19.6" height="2.34" fill="#f8d620"/><rect x="174.0" y="471.80" width="19.6" height="2.28" fill="#f8d820"/><rect x="174.0" y="473.48" width="19.6" height="2.22" fill="#f8da20"/><rect x="174.0" y="475.11" width="19.6" height="2.17" fill="#f8dc20"/><rect x="174.0" y="476.68" width="19.6" height="2.12" fill="#f8de20"/><rect x="174.0" y="478.19" width="19.6" height="2.06" fill="#f8e020"/><rect x="174.0" y="479.66" width="19.6" height="2.01" fill="#f8e220"/><rect x="174.0" y="481.07" width="19.6" height="1.97" fill="#f8e320"/><rect x="174.0" y="482.44" width="19.6" height="1.92" fill="#f8e520"/><rect x="174.0" y="483.76" width="19.6" height="1.88" fill="#f8e620"/><rect x="174.0" y="485.04" width="19.6" height="1.83" fill="#f8e820"/><rect x="174.0" y="486.27" width="19.6" height="1.79" fill="#f8e920"/><rect x="174.0" y="487.46" width="19.6" height="1.75" fill="#f8eb20"/><rect x="174.0" y="488.61" width="19.6" height="1.71" fill="#f8ec20"/><rect x="174.0" y="489.72" width="19.6" height="1.67" fill="#f8ed20"/><rect x="174.0" y="490.80" width="19.6" height="1.64" fill="#f8ef20"/><rect x="174.0" y="491.83" width="19.6" height="10.17" fill="#f8f020"/><rect x="193.0" y="2.50" width="21.1" height="19.55" fill="#1450ff"/><rect x="193.0" y="21.45" width="21.1" height="33.92" fill="#1478ff"/><rect x="193.0" y="54.77" width="21.1" height="16.42" fill="#1460ff"/><rect x="193.0" y="70.59" width="21.1" height="15.88" fill="#1888ff"/><rect x="193.0" y="85.87" width="21.1" height="15.36" fill="#18a0ff"/><rect x="193.0" y="100.63" width="21.1" height="28.64" fill="#18b8ff"/><rect x="193.0" y="128.68" width="21.1" height="13.91" fill="#18d0ff"/><rect x="193.0" y="141.99" width="21.1" height="81.97" fill="#20f8ff"/><rect x="193.0" y="223.36" width="21.1" height="10.70" fill="#20f8f0"/><rect x="193.0" y="233.47" width="21.1" height="10.36" fill="#20f8c0"/><rect x="193.0" y="243.23" width="21.1" height="19.14" fill="#20f8b0"/><rect x="193.0" y="261.77" width="21.1" height="9.40" fill="#20f890"/><rect x="193.0" y="270.57" width="21.1" height="17.32" fill="#20f880"/><rect x="193.0" y="287.28" width="21.1" height="8.54" fill="#20f860"/><rect x="193.0" y="295.22" width="21.1" height="8.27" fill="#18f840"/><rect x="193.0" y="302.89" width="21.1" height="8.01" fill="#18f830"/><rect x="193.0" y="310.30" width="21.1" height="7.76" fill="#18f828"/><rect x="193.0" y="317.45" width="21.1" height="7.51" fill="#18f820"/><rect x="193.0" y="324.36" width="21.1" height="48.11" fill="#18f818"/><rect x="193.0" y="371.87" width="21.1" height="5.67" fill="#21f818"/><rect x="193.0" y="376.94" width="21.1" height="5.50" fill="#2af818"/><rect x="193.0" y="381.84" width="21.1" height="5.33" fill="#32f818"/><rect x="193.0" y="386.57" width="21.1" height="5.17" fill="#39f818"/><rect x="193.0" y="391.14" width="21.1" height="5.02" fill="#41f818"/><rect x="193.0" y="395.55" width="21.1" height="4.87" fill="#4af818"/><rect x="193.0" y="399.82" width="21.1" height="4.72" fill="#53f818"/><rect x="193.0" y="403.94" width="21.1" height="4.58" fill="#5cf818"/><rect x="193.0" y="407.92" width="21.1" height="4.45" fill="#63f818"/><rect x="193.0" y="411.77" width="21.1" height="4.32" fill="#6bf818"/><rect x="193.0" y="415.49" width="21.1" height="4.19" fill="#71f818"/><rect x="193.0" y="419.08" width="21.1" height="4.07" fill="#78f818"/><rect x="193.0" y="422.54" width="21.1" height="3.95" fill="#7ff818"/><rect x="193.0" y="425.90" width="21.1" height="3.84" fill="#8df818"/><rect x="193.0" y="429.13" width="21.1" height="3.73" fill="#9ef818"/><rect x="193.0" y="432.26" width="21.1" height="3.62" fill="#aff818"/><rect x="193.0" y="435.28" width="21.1" height="3.52" fill="#bff818"/><rect x="193.0" y="438.20" width="21.1" height="3.42" fill="#c9f818"/><rect x="193.0" y="441.02" width="21.1" height="3.32" fill="#cdf818"/><rect x="193.0" y="443.75" width="21.1" height="3.23" fill="#d0f818"/><rect x="193.0" y="446.38" width="21.1" height="3.14" fill="#d3f818"/><rect x="193.0" y="448.92" width="21.1" height="3.06" fill="#d6f818"/><rect x="193.0" y="451.38" width="21.1" height="2.97" fill="#d9f818"/><rect x="193.0" y="453.75" width="21.1" height="2.89" fill="#dbf618"/><rect x="193.0" y="456.05" width="21.1" height="2.82" fill="#def518"/><rect x="193.0" y="458.26" width="21.1" height="2.74" fill="#e1f418"/><rect x="193.0" y="460.40" width="21.1" height="2.67" fill="#e3f218"/><rect x="193.0" y="462.47" width="21.1" height="2.60" fill="#e6f118"/><rect x="193.0" y="464.47" width="21.1" height="15.79" fill="#e8f018"/><rect x="193.0" y="479.66" width="21.1" height="2.01" fill="#e7f018"/><rect x="193.0" y="481.07" width="21.1" height="3.29" fill="#e6f018"/><rect x="193.0" y="483.76" width="21.1" height="1.88" fill="#e5f018"/><rect x="193.0" y="485.04" width="21.1" height="1.83" fill="#e4f018"/><rect x="193.0" y="486.27" width="21.1" height="2.94" fill="#e3f018"/><rect x="193.0" y="488.61" width="21.1" height="1.71" fill="#e2f018"/><rect x="193.0" y="489.72" width="21.1" height="2.71" fill="#e1f018"/><rect x="193.0" y="491.83" width="21.1" height="10.17" fill="#e0f018"/><rect x="213.5" y="2.50" width="20.1" height="36.50" fill="#0a10ff"/><rect x="213.5" y="38.40" width="20.1" height="16.97" fill="#1438ff"/><rect x="213.5" y="54.77" width="20.1" height="16.42" fill="#1460ff"/><rect x="213.5" y="70.59" width="20.1" height="15.88" fill="#18a0ff"/><rect x="213.5" y="85.87" width="20.1" height="15.36" fill="#1488ff"/><rect x="213.5" y="100.63" width="20.1" height="14.86" fill="#18a8ff"/><rect x="213.5" y="114.90" width="20.1" height="14.38" fill="#18c0ff"/><rect x="213.5" y="128.68" width="20.1" height="13.91" fill="#18b8ff"/><rect x="213.5" y="141.99" width="20.1" height="13.46" fill="#20e8ff"/><rect x="213.5" y="154.85" width="20.1" height="58.66" fill="#20f0ff"/><rect x="213.5" y="212.91" width="20.1" height="21.16" fill="#20f8ff"/><rect x="213.5" y="233.47" width="20.1" height="10.36" fill="#20f8d8"/><rect x="213.5" y="243.23" width="20.1" height="10.03" fill="#20f8d0"/><rect x="213.5" y="252.66" width="20.1" height="9.71" fill="#20f8c8"/><rect x="213.5" y="261.77" width="20.1" height="9.40" fill="#20f8a0"/><rect x="213.5" y="270.57" width="20.1" height="9.10" fill="#20f890"/><rect x="213.5" y="279.07" width="20.1" height="16.75" fill="#20f880"/><rect x="213.5" y="295.22" width="20.1" height="8.27" fill="#20f860"/><rect x="213.5" y="302.89" width="20.1" height="8.01" fill="#18f840"/><rect x="213.5" y="310.30" width="20.1" height="7.76" fill="#18f838"/><rect x="213.5" y="317.45" width="20.1" height="7.51" fill="#18f828"/><rect x="213.5" y="324.36" width="20.1" height="19.97" fill="#18f820"/><rect x="213.5" y="343.73" width="20.1" height="38.71" fill="#18f818"/><rect x="213.5" y="381.84" width="20.1" height="5.33" fill="#1bf818"/><rect x="213.5" y="386.57" width="20.1" height="5.17" fill="#1df818"/><rect x="213.5" y="391.14" width="20.1" height="5.02" fill="#21f818"/><rect x="213.5" y="395.55" width="20.1" height="4.87" fill="#27f818"/><rect x="213.5" y="399.82" width="20.1" height="4.72" fill="#2ef818"/><rect x="213.5" y="403.94" width="20.1" height="4.58" fill="#35f818"/><rect x="213.5" y="407.92" width="20.1" height="4.45" fill="#3af818"/><rect x="213.5" y="411.77" width="20.1" height="4.32" fill="#3df818"/><rect x="213.5" y="415.49" width="20.1" height="4.19" fill="#41f818"/><rect x="213.5" y="419.08" width="20.1" height="4.07" fill="#44f818"/><rect x="213.5" y="422.54" width="20.1" height="3.95" fill="#47f818"/><rect x="213.5" y="425.90" width="20.1" height="3.84" fill="#52f818"/><rect x="213.5" y="429.13" width="20.1" height="3.73" fill="#60f818"/><rect x="213.5" y="432.26" width="20.1" height="3.62" fill="#6cf818"/><rect x="213.5" y="435.28" width="20.1" height="3.52" fill="#79f818"/><rect x="213.5" y="438.20" width="20.1" height="3.42" fill="#81f818"/><rect x="213.5" y="441.02" width="20.1" height="3.32" fill="#85f818"/><rect x="213.5" y="443.75" width="20.1" height="3.23" fill="#88f818"/><rect x="213.5" y="446.38" width="20.1" height="3.14" fill="#8bf818"/><rect x="213.5" y="448.92" width="20.1" height="3.06" fill="#8ef818"/><rect x="213.5" y="451.38" width="20.1" height="2.97" fill="#91f818"/><rect x="213.5" y="453.75" width="20.1" height="2.89" fill="#93f818"/><rect x="213.5" y="456.05" width="20.1" height="2.82" fill="#96f818"/><rect x="213.5" y="458.26" width="20.1" height="2.74" fill="#99f818"/><rect x="213.5" y="460.40" width="20.1" height="2.67" fill="#9bf818"/><rect x="213.5" y="462.47" width="20.1" height="2.60" fill="#9ef818"/><rect x="213.5" y="464.47" width="20.1" height="2.53" fill="#a0f818"/><rect x="213.5" y="466.40" width="20.1" height="2.46" fill="#a1f818"/><rect x="213.5" y="468.26" width="20.1" height="2.40" fill="#a2f818"/><rect x="213.5" y="470.06" width="20.1" height="2.34" fill="#a3f818"/><rect x="213.5" y="471.80" width="20.1" height="2.28" fill="#a4f818"/><rect x="213.5" y="473.48" width="20.1" height="2.22" fill="#a5f818"/><rect x="213.5" y="475.11" width="20.1" height="2.17" fill="#a6f818"/><rect x="213.5" y="476.68" width="20.1" height="2.12" fill="#a7f818"/><rect x="213.5" y="478.19" width="20.1" height="2.06" fill="#a8f818"/><rect x="213.5" y="479.66" width="20.1" height="3.38" fill="#a7f818"/><rect x="213.5" y="482.44" width="20.1" height="3.20" fill="#a6f818"/><rect x="213.5" y="485.04" width="20.1" height="3.02" fill="#a5f818"/><rect x="213.5" y="487.46" width="20.1" height="2.86" fill="#a4f818"/><rect x="213.5" y="489.72" width="20.1" height="3.71" fill="#a3f818"/><rect x="213.5" y="492.84" width="20.1" height="3.41" fill="#a2f818"/><rect x="213.5" y="495.64" width="20.1" height="2.32" fill="#a1f818"/><rect x="213.5" y="497.36" width="20.1" height="4.64" fill="#a0f818"/><rect x="233.0" y="2.50" width="20.6" height="19.55" fill="#1440ff"/><rect x="233.0" y="21.45" width="20.6" height="17.55" fill="#1888ff"/><rect x="233.0" y="38.40" width="20.6" height="16.97" fill="#1450ff"/><rect x="233.0" y="54.77" width="20.6" height="16.42" fill="#1460ff"/><rect x="233.0" y="70.59" width="20.6" height="15.88" fill="#1480ff"/><rect x="233.0" y="85.87" width="20.6" height="15.36" fill="#1470ff"/><rect x="233.0" y="100.63" width="20.6" height="14.86" fill="#1898ff"/><rect x="233.0" y="114.90" width="20.6" height="14.38" fill="#18a8ff"/><rect x="233.0" y="128.68" width="20.6" height="13.91" fill="#18c8ff"/><rect x="233.0" y="141.99" width="20.6" height="13.46" fill="#20e0ff"/><rect x="233.0" y="154.85" width="20.6" height="58.66" fill="#20f0ff"/><rect x="233.0" y="212.91" width="20.6" height="30.92" fill="#20f8ff"/><rect x="233.0" y="243.23" width="20.6" height="10.03" fill="#20f8e0"/><rect x="233.0" y="252.66" width="20.6" height="9.71" fill="#20f8d8"/><rect x="233.0" y="261.77" width="20.6" height="9.40" fill="#20f8d0"/><rect x="233.0" y="270.57" width="20.6" height="9.10" fill="#20f8a0"/><rect x="233.0" y="279.07" width="20.6" height="8.81" fill="#20f890"/><rect x="233.0" y="287.28" width="20.6" height="8.54" fill="#20f880"/><rect x="233.0" y="295.22" width="20.6" height="15.67" fill="#20f870"/><rect x="233.0" y="310.30" width="20.6" height="7.76" fill="#20f860"/><rect x="233.0" y="317.45" width="20.6" height="7.51" fill="#18f840"/><rect x="233.0" y="324.36" width="20.6" height="19.97" fill="#18f830"/><rect x="233.0" y="343.73" width="20.6" height="12.44" fill="#18f820"/><rect x="233.0" y="355.57" width="20.6" height="6.22" fill="#18f81f"/><rect x="233.0" y="361.19" width="20.6" height="6.03" fill="#18f81e"/><rect x="233.0" y="366.62" width="20.6" height="5.85" fill="#18f81d"/><rect x="233.0" y="371.87" width="20.6" height="5.67" fill="#18f81c"/><rect x="233.0" y="376.94" width="20.6" height="10.23" fill="#18f81b"/><rect x="233.0" y="386.57" width="20.6" height="5.17" fill="#18f81a"/><rect x="233.0" y="391.14" width="20.6" height="5.02" fill="#18f819"/><rect x="233.0" y="395.55" width="20.6" height="4.87" fill="#18f818"/><rect x="233.0" y="399.82" width="20.6" height="4.72" fill="#19f818"/><rect x="233.0" y="403.94" width="20.6" height="4.58" fill="#1af818"/><rect x="233.0" y="407.92" width="20.6" height="4.45" fill="#1bf818"/><rect x="233.0" y="411.77" width="20.6" height="4.32" fill="#1cf818"/><rect x="233.0" y="415.49" width="20.6" height="4.19" fill="#1ef818"/><rect x="233.0" y="419.08" width="20.6" height="4.07" fill="#1ff818"/><rect x="233.0" y="422.54" width="20.6" height="3.95" fill="#20f818"/><rect x="233.0" y="425.90" width="20.6" height="3.84" fill="#24f818"/><rect x="233.0" y="429.13" width="20.6" height="3.73" fill="#2af818"/><rect x="233.0" y="432.26" width="20.6" height="3.62" fill="#30f818"/><rect x="233.0" y="435.28" width="20.6" height="3.52" fill="#35f818"/><rect x="233.0" y="438.20" width="20.6" height="3.42" fill="#38f818"/><rect x="233.0" y="441.02" width="20.6" height="3.32" fill="#39f818"/><rect x="233.0" y="443.75" width="20.6" height="3.23" fill="#3af818"/><rect x="233.0" y="446.38" width="20.6" height="5.60" fill="#3bf818"/><rect x="233.0" y="451.38" width="20.6" height="2.97" fill="#3cf818"/><rect x="233.0" y="453.75" width="20.6" height="2.89" fill="#3df818"/><rect x="233.0" y="456.05" width="20.6" height="4.96" fill="#3ef818"/><rect x="233.0" y="460.40" width="20.6" height="4.67" fill="#3ff818"/><rect x="233.0" y="464.47" width="20.6" height="4.39" fill="#40f818"/><rect x="233.0" y="468.26" width="20.6" height="4.14" fill="#41f818"/><rect x="233.0" y="471.80" width="20.6" height="5.47" fill="#42f818"/><rect x="233.0" y="476.68" width="20.6" height="3.58" fill="#43f818"/><rect x="233.0" y="479.66" width="20.6" height="4.70" fill="#44f818"/><rect x="233.0" y="483.76" width="20.6" height="5.45" fill="#45f818"/><rect x="233.0" y="488.61" width="20.6" height="4.82" fill="#46f818"/><rect x="233.0" y="492.84" width="20.6" height="4.28" fill="#47f818"/><rect x="233.0" y="496.52" width="20.6" height="5.48" fill="#48f818"/><rect x="253.0" y="2.50" width="30.6" height="36.50" fill="#0a10ff"/><rect x="253.0" y="38.40" width="30.6" height="16.97" fill="#1440ff"/><rect x="253.0" y="54.77" width="30.6" height="16.42" fill="#1448ff"/><rect x="253.0" y="70.59" width="30.6" height="15.88" fill="#1468ff"/><rect x="253.0" y="85.87" width="30.6" height="29.63" fill="#1480ff"/><rect x="253.0" y="114.90" width="30.6" height="14.38" fill="#1890ff"/><rect x="253.0" y="128.68" width="30.6" height="13.91" fill="#18c0ff"/><rect x="253.0" y="141.99" width="30.6" height="13.46" fill="#18c8ff"/><rect x="253.0" y="154.85" width="30.6" height="13.03" fill="#20f0ff"/><rect x="253.0" y="167.28" width="30.6" height="85.98" fill="#20f8ff"/><rect x="253.0" y="252.66" width="30.6" height="9.71" fill="#20f8f8"/><rect x="253.0" y="261.77" width="30.6" height="9.40" fill="#20f8f0"/><rect x="253.0" y="270.57" width="30.6" height="9.10" fill="#20f8e0"/><rect x="253.0" y="279.07" width="30.6" height="8.81" fill="#20f8c0"/><rect x="253.0" y="287.28" width="30.6" height="8.54" fill="#20f8a8"/><rect x="253.0" y="295.22" width="30.6" height="8.27" fill="#20f890"/><rect x="253.0" y="302.89" width="30.6" height="8.01" fill="#20f880"/><rect x="253.0" y="310.30" width="30.6" height="7.76" fill="#20f870"/><rect x="253.0" y="317.45" width="30.6" height="7.51" fill="#20f860"/><rect x="253.0" y="324.36" width="30.6" height="7.28" fill="#20f848"/><rect x="253.0" y="331.04" width="30.6" height="7.05" fill="#18f830"/><rect x="253.0" y="337.50" width="30.6" height="12.86" fill="#18f828"/><rect x="253.0" y="349.75" width="30.6" height="6.42" fill="#17f827"/><rect x="253.0" y="355.57" width="30.6" height="6.22" fill="#16f824"/><rect x="253.0" y="361.19" width="30.6" height="6.03" fill="#14f821"/><rect x="253.0" y="366.62" width="30.6" height="5.85" fill="#13f81e"/><rect x="253.0" y="371.87" width="30.6" height="5.67" fill="#11f81b"/><rect x="253.0" y="376.94" width="30.6" height="10.23" fill="#10f818"/><rect x="253.0" y="386.57" width="30.6" height="17.97" fill="#10f817"/><rect x="253.0" y="403.94" width="30.6" height="12.14" fill="#10f816"/><rect x="253.0" y="415.49" width="30.6" height="17.38" fill="#10f815"/><rect x="253.0" y="432.26" width="30.6" height="14.72" fill="#10f814"/><rect x="253.0" y="446.38" width="30.6" height="16.69" fill="#10f813"/><rect x="253.0" y="462.47" width="30.6" height="14.81" fill="#10f812"/><rect x="253.0" y="476.68" width="30.6" height="15.76" fill="#10f811"/><rect x="253.0" y="491.83" width="30.6" height="10.17" fill="#10f810"/><rect x="283.0" y="2.50" width="40.6" height="19.55" fill="#0a18ff"/><rect x="283.0" y="21.45" width="40.6" height="33.92" fill="#0a28ff"/><rect x="283.0" y="54.77" width="40.6" height="16.42" fill="#1448ff"/><rect x="283.0" y="70.59" width="40.6" height="15.88" fill="#1460ff"/><rect x="283.0" y="85.87" width="40.6" height="15.36" fill="#1470ff"/><rect x="283.0" y="100.63" width="40.6" height="14.86" fill="#1488ff"/><rect x="283.0" y="114.90" width="40.6" height="14.38" fill="#1480ff"/><rect x="283.0" y="128.68" width="40.6" height="26.77" fill="#1890ff"/><rect x="283.0" y="154.85" width="40.6" height="13.03" fill="#18b8ff"/><rect x="283.0" y="167.28" width="40.6" height="12.60" fill="#18c0ff"/><rect x="283.0" y="179.28" width="40.6" height="23.40" fill="#18d0ff"/><rect x="283.0" y="202.08" width="40.6" height="69.09" fill="#20f8ff"/><rect x="283.0" y="270.57" width="40.6" height="9.10" fill="#20f8f8"/><rect x="283.0" y="279.07" width="40.6" height="8.81" fill="#20f8f0"/><rect x="283.0" y="287.28" width="40.6" height="8.54" fill="#20f8e8"/><rect x="283.0" y="295.22" width="40.6" height="8.27" fill="#20f8e0"/><rect x="283.0" y="302.89" width="40.6" height="8.01" fill="#20f8d8"/><rect x="283.0" y="310.30" width="40.6" height="7.76" fill="#20f8ca"/><rect x="283.0" y="317.45" width="40.6" height="7.51" fill="#20f8bf"/><rect x="283.0" y="324.36" width="40.6" height="7.28" fill="#20f8b4"/><rect x="283.0" y="331.04" width="40.6" height="7.05" fill="#20f8a9"/><rect x="283.0" y="337.50" width="40.6" height="6.83" fill="#20f89f"/><rect x="283.0" y="343.73" width="40.6" height="6.62" fill="#20f895"/><rect x="283.0" y="349.75" width="40.6" height="6.42" fill="#1ff88a"/><rect x="283.0" y="355.57" width="40.6" height="6.22" fill="#1df87c"/><rect x="283.0" y="361.19" width="40.6" height="6.03" fill="#1af86f"/><rect x="283.0" y="366.62" width="40.6" height="5.85" fill="#18f862"/><rect x="283.0" y="371.87" width="40.6" height="5.67" fill="#18f85b"/><rect x="283.0" y="376.94" width="40.6" height="5.50" fill="#18f856"/><rect x="283.0" y="381.84" width="40.6" height="5.33" fill="#18f851"/><rect x="283.0" y="386.57" width="40.6" height="5.17" fill="#18f84c"/><rect x="283.0" y="391.14" width="40.6" height="5.02" fill="#18f847"/><rect x="283.0" y="395.55" width="40.6" height="4.87" fill="#18f842"/><rect x="283.0" y="399.82" width="40.6" height="4.72" fill="#18f83f"/><rect x="283.0" y="403.94" width="40.6" height="4.58" fill="#18f83d"/><rect x="283.0" y="407.92" width="40.6" height="4.45" fill="#18f83b"/><rect x="283.0" y="411.77" width="40.6" height="4.32" fill="#18f839"/><rect x="283.0" y="415.49" width="40.6" height="4.19" fill="#18f837"/><rect x="283.0" y="419.08" width="40.6" height="4.07" fill="#18f835"/><rect x="283.0" y="422.54" width="40.6" height="3.95" fill="#18f833"/><rect x="283.0" y="425.90" width="40.6" height="3.84" fill="#18f831"/><rect x="283.0" y="429.13" width="40.6" height="72.87" fill="#18f830"/><rect x="323.0" y="2.50" width="40.6" height="19.55" fill="#2a10ff"/><rect x="323.0" y="21.45" width="40.6" height="33.92" fill="#1410ff"/><rect x="323.0" y="54.77" width="40.6" height="16.42" fill="#1010ff"/><rect x="323.0" y="70.59" width="40.6" height="15.88" fill="#0a20ff"/><rect x="323.0" y="85.87" width="40.6" height="15.36" fill="#0a30ff"/><rect x="323.0" y="100.63" width="40.6" height="14.86" fill="#1448ff"/><rect x="323.0" y="114.90" width="40.6" height="27.69" fill="#1458ff"/><rect x="323.0" y="141.99" width="40.6" height="13.46" fill="#1470ff"/><rect x="323.0" y="154.85" width="40.6" height="13.03" fill="#1890ff"/><rect x="323.0" y="167.28" width="40.6" height="12.60" fill="#1898ff"/><rect x="323.0" y="179.28" width="40.6" height="23.40" fill="#18c0ff"/><rect x="323.0" y="202.08" width="40.6" height="11.42" fill="#18c8ff"/><rect x="323.0" y="212.91" width="40.6" height="11.06" fill="#20f8ff"/><rect x="323.0" y="223.36" width="40.6" height="10.70" fill="#18e0ff"/><rect x="323.0" y="233.47" width="40.6" height="19.79" fill="#20f8ff"/><rect x="323.0" y="252.66" width="40.6" height="9.71" fill="#18c8ff"/><rect x="323.0" y="261.77" width="40.6" height="9.40" fill="#18d8ff"/><rect x="323.0" y="270.57" width="40.6" height="9.10" fill="#20f8ff"/><rect x="323.0" y="279.07" width="40.6" height="8.81" fill="#20f0ff"/><rect x="323.0" y="287.28" width="40.6" height="63.07" fill="#20f8ff"/><rect x="323.0" y="349.75" width="40.6" height="6.42" fill="#20f8fe"/><rect x="323.0" y="355.57" width="40.6" height="6.22" fill="#20f8fc"/><rect x="323.0" y="361.19" width="40.6" height="6.03" fill="#20f8fa"/><rect x="323.0" y="366.62" width="40.6" height="5.85" fill="#20f8f8"/><rect x="323.0" y="371.87" width="40.6" height="5.67" fill="#20f8f6"/><rect x="323.0" y="376.94" width="40.6" height="5.50" fill="#20f8f4"/><rect x="323.0" y="381.84" width="40.6" height="5.33" fill="#20f8f2"/><rect x="323.0" y="386.57" width="40.6" height="5.17" fill="#20f8f0"/><rect x="323.0" y="391.14" width="40.6" height="5.02" fill="#20f8ee"/><rect x="323.0" y="395.55" width="40.6" height="4.87" fill="#20f8ec"/><rect x="323.0" y="399.82" width="40.6" height="4.72" fill="#20f8ea"/><rect x="323.0" y="403.94" width="40.6" height="4.58" fill="#20f8e8"/><rect x="323.0" y="407.92" width="40.6" height="4.45" fill="#20f8e5"/><rect x="323.0" y="411.77" width="40.6" height="4.32" fill="#20f8e3"/><rect x="323.0" y="415.49" width="40.6" height="4.19" fill="#20f8e1"/><rect x="323.0" y="419.08" width="40.6" height="4.07" fill="#20f8e0"/><rect x="323.0" y="422.54" width="40.6" height="3.95" fill="#20f8de"/><rect x="323.0" y="425.90" width="40.6" height="3.84" fill="#20f8dc"/><rect x="323.0" y="429.13" width="40.6" height="3.73" fill="#20f8da"/><rect x="323.0" y="432.26" width="40.6" height="3.62" fill="#20f8d9"/><rect x="323.0" y="435.28" width="40.6" height="3.52" fill="#20f8d7"/><rect x="323.0" y="438.20" width="40.6" height="3.42" fill="#20f8d6"/><rect x="323.0" y="441.02" width="40.6" height="3.32" fill="#20f8d4"/><rect x="323.0" y="443.75" width="40.6" height="3.23" fill="#20f8d3"/><rect x="323.0" y="446.38" width="40.6" height="3.14" fill="#20f8d1"/><rect x="323.0" y="448.92" width="40.6" height="53.08" fill="#20f8d0"/><rect x="363.0" y="2.50" width="59.6" height="19.55" fill="#1a10ff"/><rect x="363.0" y="21.45" width="59.6" height="79.78" fill="#1010ff"/><rect x="363.0" y="100.63" width="59.6" height="14.86" fill="#0a18ff"/><rect x="363.0" y="114.90" width="59.6" height="14.38" fill="#0a10ff"/><rect x="363.0" y="128.68" width="59.6" height="13.91" fill="#1438ff"/><rect x="363.0" y="141.99" width="59.6" height="13.46" fill="#1440ff"/><rect x="363.0" y="154.85" width="59.6" height="13.03" fill="#1458ff"/><rect x="363.0" y="167.28" width="59.6" height="35.41" fill="#1468ff"/><rect x="363.0" y="202.08" width="59.6" height="11.42" fill="#1888ff"/><rect x="363.0" y="212.91" width="59.6" height="11.06" fill="#1478ff"/><rect x="363.0" y="223.36" width="59.6" height="10.70" fill="#1898ff"/><rect x="363.0" y="233.47" width="59.6" height="10.36" fill="#1880ff"/><rect x="363.0" y="243.23" width="59.6" height="10.03" fill="#18a0ff"/><rect x="363.0" y="252.66" width="59.6" height="9.71" fill="#18c0ff"/><rect x="363.0" y="261.77" width="59.6" height="9.40" fill="#18b8ff"/><rect x="363.0" y="270.57" width="59.6" height="17.32" fill="#18b0ff"/><rect x="363.0" y="287.28" width="59.6" height="8.54" fill="#18c0ff"/><rect x="363.0" y="295.22" width="59.6" height="15.67" fill="#18c8ff"/><rect x="363.0" y="310.30" width="59.6" height="7.76" fill="#18d0ff"/><rect x="363.0" y="317.45" width="59.6" height="7.51" fill="#18d8ff"/><rect x="363.0" y="324.36" width="59.6" height="7.28" fill="#18e0ff"/><rect x="363.0" y="331.04" width="59.6" height="19.31" fill="#20f0ff"/><rect x="363.0" y="349.75" width="59.6" height="6.42" fill="#20f1ff"/><rect x="363.0" y="355.57" width="59.6" height="6.22" fill="#20f2ff"/><rect x="363.0" y="361.19" width="59.6" height="6.03" fill="#20f4ff"/><rect x="363.0" y="366.62" width="59.6" height="5.85" fill="#20f5ff"/><rect x="363.0" y="371.87" width="59.6" height="5.67" fill="#20f7ff"/><rect x="363.0" y="376.94" width="59.6" height="125.06" fill="#20f8ff"/><rect x="422.0" y="2.50" width="76.6" height="19.55" fill="#3010ff"/><rect x="422.0" y="21.45" width="76.6" height="17.55" fill="#2a10ff"/><rect x="422.0" y="38.40" width="76.6" height="32.79" fill="#1c10ff"/><rect x="422.0" y="70.59" width="76.6" height="30.65" fill="#1810ff"/><rect x="422.0" y="100.63" width="76.6" height="28.64" fill="#1010ff"/><rect x="422.0" y="128.68" width="76.6" height="13.91" fill="#0a18ff"/><rect x="422.0" y="141.99" width="76.6" height="71.52" fill="#1010ff"/><rect x="422.0" y="212.91" width="76.6" height="21.16" fill="#1018ff"/><rect x="422.0" y="233.47" width="76.6" height="10.36" fill="#1010ff"/><rect x="422.0" y="243.23" width="76.6" height="10.03" fill="#1038ff"/><rect x="422.0" y="252.66" width="76.6" height="43.16" fill="#1018ff"/><rect x="422.0" y="295.22" width="76.6" height="8.27" fill="#1038ff"/><rect x="422.0" y="302.89" width="76.6" height="8.01" fill="#1030ff"/><rect x="422.0" y="310.30" width="76.6" height="7.76" fill="#1020ff"/><rect x="422.0" y="317.45" width="76.6" height="26.88" fill="#1018ff"/><rect x="422.0" y="343.73" width="76.6" height="18.06" fill="#1014ff"/><rect x="422.0" y="361.19" width="76.6" height="21.24" fill="#1015ff"/><rect x="422.0" y="381.84" width="76.6" height="26.69" fill="#1016ff"/><rect x="422.0" y="407.92" width="76.6" height="21.81" fill="#1017ff"/><rect x="422.0" y="429.13" width="76.6" height="12.49" fill="#1018ff"/><rect x="422.0" y="441.02" width="76.6" height="3.32" fill="#121cff"/><rect x="422.0" y="443.75" width="76.6" height="3.23" fill="#1320ff"/><rect x="422.0" y="446.38" width="76.6" height="3.14" fill="#1524ff"/><rect x="422.0" y="448.92" width="76.6" height="3.06" fill="#1728ff"/><rect x="422.0" y="451.38" width="76.6" height="2.97" fill="#182cff"/><rect x="422.0" y="453.75" width="76.6" height="2.89" fill="#1a30ff"/><rect x="422.0" y="456.05" width="76.6" height="2.82" fill="#1a32ff"/><rect x="422.0" y="458.26" width="76.6" height="2.74" fill="#1a33ff"/><rect x="422.0" y="460.40" width="76.6" height="2.67" fill="#1a35ff"/><rect x="422.0" y="462.47" width="76.6" height="2.60" fill="#1a37ff"/><rect x="422.0" y="464.47" width="76.6" height="2.53" fill="#1a39ff"/><rect x="422.0" y="466.40" width="76.6" height="2.46" fill="#1a3cff"/><rect x="422.0" y="468.26" width="76.6" height="2.40" fill="#1b3fff"/><rect x="422.0" y="470.06" width="76.6" height="2.34" fill="#1b41ff"/><rect x="422.0" y="471.80" width="76.6" height="2.28" fill="#1c44ff"/><rect x="422.0" y="473.48" width="76.6" height="2.22" fill="#1c47ff"/><rect x="422.0" y="475.11" width="76.6" height="16.29" fill="#1c48ff"/><rect x="422.0" y="490.80" width="76.6" height="1.64" fill="#1c47ff"/><rect x="422.0" y="491.83" width="76.6" height="1.60" fill="#1b46ff"/><rect x="422.0" y="492.84" width="76.6" height="1.57" fill="#1b45ff"/><rect x="422.0" y="493.80" width="76.6" height="1.54" fill="#1b44ff"/><rect x="422.0" y="494.74" width="76.6" height="2.38" fill="#1b43ff"/><rect x="422.0" y="496.52" width="76.6" height="1.44" fill="#1a42ff"/><rect x="422.0" y="497.36" width="76.6" height="1.41" fill="#1a41ff"/><rect x="422.0" y="498.18" width="76.6" height="3.82" fill="#1a40ff"/><rect x="498.0" y="2.50" width="76.6" height="68.69" fill="#7a10ff"/><rect x="498.0" y="70.59" width="76.6" height="30.65" fill="#5010ff"/><rect x="498.0" y="100.63" width="76.6" height="28.64" fill="#5a10ff"/><rect x="498.0" y="128.68" width="76.6" height="39.20" fill="#4210ff"/><rect x="498.0" y="167.28" width="76.6" height="12.60" fill="#3a10ff"/><rect x="498.0" y="179.28" width="76.6" height="34.23" fill="#3410ff"/><rect x="498.0" y="212.91" width="76.6" height="49.46" fill="#2a10ff"/><rect x="498.0" y="261.77" width="76.6" height="41.72" fill="#3010ff"/><rect x="498.0" y="302.89" width="76.6" height="15.16" fill="#2018ff"/><rect x="498.0" y="317.45" width="76.6" height="26.88" fill="#2c10ff"/><rect x="498.0" y="343.73" width="76.6" height="6.62" fill="#2f10ff"/><rect x="498.0" y="349.75" width="76.6" height="6.42" fill="#2a10ff"/><rect x="498.0" y="355.57" width="76.6" height="6.22" fill="#2510ff"/><rect x="498.0" y="361.19" width="76.6" height="11.28" fill="#2410ff"/><rect x="498.0" y="371.87" width="76.6" height="19.87" fill="#2310ff"/><rect x="498.0" y="391.14" width="76.6" height="35.36" fill="#2210ff"/><rect x="498.0" y="425.90" width="76.6" height="48.19" fill="#2110ff"/><rect x="498.0" y="473.48" width="76.6" height="28.52" fill="#2010ff"/><rect x="574.0" y="2.50" width="79.6" height="454.15" fill="#7a10ff"/><rect x="574.0" y="456.05" width="79.6" height="2.82" fill="#7610ff"/><rect x="574.0" y="458.26" width="79.6" height="2.74" fill="#7310ff"/><rect x="574.0" y="460.40" width="79.6" height="2.67" fill="#6f10ff"/><rect x="574.0" y="462.47" width="79.6" height="9.93" fill="#6e10ff"/><rect x="574.0" y="471.80" width="79.6" height="18.52" fill="#6d10ff"/><rect x="574.0" y="489.72" width="79.6" height="12.28" fill="#6c10ff"/><rect x="653.0" y="2.50" width="47.6" height="499.50" fill="#7a10ff"/></g><g fill="#fff" opacity="0.12"><rect x="72.6" y="70.09" width="628.0" height="1"/><rect x="72.6" y="100.13" width="628.0" height="1"/><rect x="72.6" y="128.18" width="628.0" height="1"/><rect x="72.6" y="166.78" width="628.0" height="1"/><rect x="72.6" y="201.58" width="628.0" height="1"/><rect x="72.6" y="232.97" width="628.0" height="1"/><rect x="72.6" y="242.73" width="628.0" height="1"/><rect x="72.6" y="252.16" width="628.0" height="1"/><rect x="72.6" y="270.07" width="628.0" height="1"/><rect x="72.6" y="278.57" width="628.0" height="1"/><rect x="72.6" y="294.72" width="628.0" height="1"/><rect x="72.6" y="316.95" width="628.0" height="1"/><rect x="72.6" y="330.54" width="628.0" height="1"/><rect x="72.6" y="337.00" width="628.0" height="1"/><rect x="72.6" y="343.23" width="628.0" height="1"/><rect x="72.6" y="349.25" width="628.0" height="1"/><rect x="72.6" y="355.07" width="628.0" height="1"/><rect x="72.6" y="366.12" width="628.0" height="1"/><rect x="72.6" y="376.44" width="628.0" height="1"/><rect x="72.6" y="386.07" width="628.0" height="1"/><rect x="72.6" y="390.64" width="628.0" height="1"/><rect x="72.6" y="395.05" width="628.0" height="1"/><rect x="72.6" y="403.44" width="628.0" height="1"/><rect x="72.6" y="407.42" width="628.0" height="1"/><rect x="72.6" y="414.99" width="628.0" height="1"/></g><g fill="#fff" opacity="0.07"><rect x="79.80" y="2.5" width="1" height="499.5"/><rect x="93.90" y="2.5" width="1" height="499.5"/><rect x="107.60" y="2.5" width="1" height="499.5"/><rect x="117.60" y="2.5" width="1" height="499.5"/><rect x="133.60" y="2.5" width="1" height="499.5"/><rect x="153.50" y="2.5" width="1" height="499.5"/><rect x="173.50" y="2.5" width="1" height="499.5"/><rect x="192.50" y="2.5" width="1" height="499.5"/><rect x="213.00" y="2.5" width="1" height="499.5"/><rect x="232.50" y="2.5" width="1" height="499.5"/><rect x="252.50" y="2.5" width="1" height="499.5"/><rect x="282.50" y="2.5" width="1" height="499.5"/><rect x="322.50" y="2.5" width="1" height="499.5"/><rect x="362.50" y="2.5" width="1" height="499.5"/><rect x="652.50" y="2.5" width="1" height="499.5"/></g><g fill="#fff" opacity="0.04"><rect x="72.6" y="418.58" width="628.0" height="1"/><rect x="72.6" y="422.04" width="628.0" height="1"/><rect x="72.6" y="425.40" width="628.0" height="1"/><rect x="72.6" y="428.63" width="628.0" height="1"/><rect x="72.6" y="431.76" width="628.0" height="1"/><rect x="72.6" y="434.78" width="628.0" height="1"/><rect x="72.6" y="437.70" width="628.0" height="1"/><rect x="72.6" y="440.52" width="628.0" height="1"/><rect x="72.6" y="443.25" width="628.0" height="1"/><rect x="72.6" y="445.88" width="628.0" height="1"/><rect x="72.6" y="448.42" width="628.0" height="1"/><rect x="72.6" y="450.88" width="628.0" height="1"/><rect x="72.6" y="453.25" width="628.0" height="1"/><rect x="72.6" y="455.55" width="628.0" height="1"/><rect x="72.6" y="457.76" width="628.0" height="1"/><rect x="72.6" y="459.90" width="628.0" height="1"/><rect x="72.6" y="461.97" width="628.0" height="1"/><rect x="72.6" y="463.97" width="628.0" height="1"/><rect x="72.6" y="465.90" width="628.0" height="1"/><rect x="72.6" y="467.76" width="628.0" height="1"/><rect x="72.6" y="469.56" width="628.0" height="1"/><rect x="72.6" y="471.30" width="628.0" height="1"/><rect x="72.6" y="472.98" width="628.0" height="1"/><rect x="72.6" y="474.61" width="628.0" height="1"/><rect x="72.6" y="476.18" width="628.0" height="1"/><rect x="72.6" y="477.69" width="628.0" height="1"/><rect x="72.6" y="479.16" width="628.0" height="1"/><rect x="72.6" y="480.57" width="628.0" height="1"/><rect x="72.6" y="481.94" width="628.0" height="1"/><rect x="72.6" y="483.26" width="628.0" height="1"/><rect x="72.6" y="484.54" width="628.0" height="1"/><rect x="72.6" y="485.77" width="628.0" height="1"/><rect x="72.6" y="486.96" width="628.0" height="1"/><rect x="72.6" y="488.11" width="628.0" height="1"/><rect x="72.6" y="489.22" width="628.0" height="1"/><rect x="72.6" y="490.30" width="628.0" height="1"/><rect x="72.6" y="491.33" width="628.0" height="1"/><rect x="72.6" y="492.34" width="628.0" height="1"/><rect x="72.6" y="493.30" width="628.0" height="1"/><rect x="72.6" y="494.24" width="628.0" height="1"/><rect x="72.6" y="495.14" width="628.0" height="1"/><rect x="72.6" y="496.02" width="628.0" height="1"/><rect x="72.6" y="496.86" width="628.0" height="1"/><rect x="72.6" y="497.68" width="628.0" height="1"/><rect x="72.6" y="498.46" width="628.0" height="1"/><rect x="72.6" y="499.22" width="628.0" height="1"/><rect x="72.6" y="499.96" width="628.0" height="1"/><rect x="72.6" y="500.67" width="628.0" height="1"/><rect x="72.6" y="501.35" width="628.0" height="1"/></g><defs><clipPath id="pc"><rect x="65.3" y="1.5" width="634.8" height="519.2"/></clipPath></defs><path d="M64.70,521.40 L66.31,520.96 L67.93,520.52 L69.54,520.06 L71.16,519.59 L72.77,519.11 L74.39,518.62 L76.00,518.11 L77.61,517.60 L79.23,517.08 L80.84,516.55 L82.46,516.01 L84.07,515.45 L85.69,514.89 L87.30,514.32 L88.91,513.74 L90.53,513.15 L92.14,512.55 L93.76,511.94 L95.37,511.32 L96.99,510.69 L98.60,510.05 L100.21,509.40 L101.83,508.75 L103.44,508.08 L105.06,507.41 L106.67,506.73 L108.29,506.04 L109.90,505.34 L111.52,504.63 L113.13,503.92 L114.74,503.19 L116.36,502.46 L117.97,501.72 L119.59,500.97 L121.20,500.22 L122.82,499.45 L124.43,498.68 L126.04,497.90 L127.66,497.12 L129.27,496.32 L130.89,495.52 L132.50,494.71 L134.12,493.90 L135.73,493.07 L137.34,492.24 L138.96,491.41 L140.57,490.56 L142.19,489.71 L143.80,488.86 L145.42,487.99 L147.03,487.12 L148.64,486.24 L150.26,485.36 L151.87,484.47 L153.49,483.57 L155.10,482.67 L156.72,481.76 L158.33,480.84 L159.94,479.92 L161.56,478.99 L163.17,478.06 L164.79,477.12 L166.40,476.17 L168.02,475.22 L169.63,474.27 L171.24,473.30 L172.86,472.33 L174.47,471.36 L176.09,470.38 L177.70,469.40 L179.32,468.41 L180.93,467.41 L182.55,466.41 L184.16,465.40 L185.77,464.39 L187.39,463.38 L189.00,462.35 L190.62,461.33 L192.23,460.30 L193.85,459.26 L195.46,458.22 L197.07,457.17 L198.69,456.12 L200.30,455.07 L201.92,454.01 L203.53,452.94 L205.15,451.87 L206.76,450.80 L208.37,449.72 L209.99,448.64 L211.60,447.55 L213.22,446.46 L214.83,445.36 L216.45,444.26 L218.06,443.16 L219.67,442.05 L221.29,440.94 L222.90,439.82 L224.52,438.70 L226.13,437.58 L227.75,436.45 L229.36,435.31 L230.97,434.18 L232.59,433.04 L234.20,431.89 L235.82,430.74 L237.43,429.59 L239.05,428.44 L240.66,427.28 L242.27,426.12 L243.89,424.95 L245.50,423.78 L247.12,422.61 L248.73,421.43 L250.35,420.25 L251.96,419.06 L253.57,417.88 L255.19,416.69 L256.80,415.49 L258.42,414.29 L260.03,413.09 L261.65,411.89 L263.26,410.68 L264.88,409.47 L266.49,408.26 L268.10,407.04 L269.72,405.82 L271.33,404.60 L272.95,403.37 L274.56,402.14 L276.18,400.91 L277.79,399.67 L279.40,398.43 L281.02,397.19 L282.63,395.95 L284.25,394.70 L285.86,393.45 L287.48,392.20 L289.09,390.94 L290.70,389.68 L292.32,388.42 L293.93,387.16 L295.55,385.89 L297.16,384.62 L298.78,383.35 L300.39,382.07 L302.00,380.79 L303.62,379.51 L305.23,378.23 L306.85,376.94 L308.46,375.65 L310.08,374.36 L311.69,373.07 L313.30,371.77 L314.92,370.47 L316.53,369.17 L318.15,367.87 L319.76,366.56 L321.38,365.25 L322.99,363.94 L324.60,362.62 L326.22,361.31 L327.83,359.99 L329.45,358.66 L331.06,357.34 L332.68,356.01 L334.29,354.68 L335.91,353.35 L337.52,352.02 L339.13,350.68 L340.75,349.34 L342.36,348.00 L343.98,346.66 L345.59,345.31 L347.21,343.97 L348.82,342.61 L350.43,341.26 L352.05,339.91 L353.66,338.55 L355.28,337.19 L356.89,335.83 L358.51,334.46 L360.12,333.10 L361.73,331.73 L363.35,330.36 L364.96,328.98 L366.58,327.61 L368.19,326.23 L369.81,324.85 L371.42,323.47 L373.03,322.08 L374.65,320.70 L376.26,319.31 L377.88,317.92 L379.49,316.52 L381.11,315.13 L382.72,313.73 L384.33,312.33 L385.95,310.93 L387.56,309.52 L389.18,308.12 L390.79,306.71 L392.41,305.30 L394.02,303.88 L395.63,302.47 L397.25,301.05 L398.86,299.63 L400.48,298.21 L402.09,296.79 L403.71,295.36 L405.32,293.93 L406.93,292.50 L408.55,291.07 L410.16,289.63 L411.78,288.20 L413.39,286.76 L415.01,285.32 L416.62,283.87 L418.24,282.43 L419.85,280.98 L421.46,279.53 L423.08,278.08 L424.69,276.63 L426.31,275.17 L427.92,273.71 L429.54,272.25 L431.15,270.79 L432.76,269.33 L434.38,267.86 L435.99,266.39 L437.61,264.92 L439.22,263.45 L440.84,261.97 L442.45,260.49 L444.06,259.02 L445.68,257.53 L447.29,256.05 L448.91,254.56 L450.52,253.08 L452.14,251.59 L453.75,250.10 L455.36,248.60 L456.98,247.10 L458.59,245.61 L460.21,244.11 L461.82,242.60 L463.44,241.10 L465.05,239.59 L466.66,238.08 L468.28,236.57 L469.89,235.06 L471.51,233.54 L473.12,232.03 L474.74,230.51 L476.35,228.99 L477.96,227.46 L479.58,225.94 L481.19,224.41 L482.81,222.88 L484.42,221.35 L486.04,219.81 L487.65,218.28 L489.27,216.74 L490.88,215.20 L492.49,213.66 L494.11,212.11 L495.72,210.56 L497.34,209.02 L498.95,207.47 L500.57,205.91 L502.18,204.36 L503.79,202.80 L505.41,201.24 L507.02,199.68 L508.64,198.12 L510.25,196.55 L511.87,194.98 L513.48,193.41 L515.09,191.84 L516.71,190.27 L518.32,188.69 L519.94,187.12 L521.55,185.54 L523.17,183.95 L524.78,182.37 L526.39,180.78 L528.01,179.20 L529.62,177.61 L531.24,176.01 L532.85,174.42 L534.47,172.82 L536.08,171.23 L537.69,169.63 L539.31,168.02 L540.92,166.42 L542.54,164.81 L544.15,163.20 L545.77,161.59 L547.38,159.98 L548.99,158.37 L550.61,156.75 L552.22,155.14 L553.84,153.52 L555.45,151.89 L557.07,150.27 L558.68,148.64 L560.29,147.02 L561.91,145.39 L563.52,143.76 L565.14,142.12 L566.75,140.49 L568.37,138.85 L569.98,137.21 L571.60,135.57 L573.21,133.93 L574.82,132.28 L576.44,130.64 L578.05,128.99 L579.67,127.34 L581.28,125.69 L582.90,124.04 L584.51,122.38 L586.12,120.72 L587.74,119.07 L589.35,117.41 L590.97,115.74 L592.58,114.08 L594.20,112.42 L595.81,110.75 L597.42,109.08 L599.04,107.41 L600.65,105.74 L602.27,104.06 L603.88,102.39 L605.50,100.71 L607.11,99.04 L608.72,97.36 L610.34,95.67 L611.95,93.99 L613.57,92.31 L615.18,90.62 L616.80,88.94 L618.41,87.25 L620.02,85.56 L621.64,83.87 L623.25,82.17 L624.87,80.48 L626.48,78.78 L628.10,77.09 L629.71,75.39 L631.32,73.69 L632.94,71.99 L634.55,70.29 L636.17,68.59 L637.78,66.88 L639.40,65.18 L641.01,63.47 L642.63,61.77 L644.24,60.06 L645.85,58.35 L647.47,56.64 L649.08,54.93 L650.70,53.22 L652.31,51.50 L653.93,49.79 L655.54,48.07 L657.15,46.36 L658.77,44.64 L660.38,42.93 L662.00,41.21 L663.61,39.49 L665.23,37.77 L666.84,36.05 L668.45,34.33 L670.07,32.61 L671.68,30.89 L673.30,29.17 L674.91,27.44 L676.53,25.72 L678.14,24.00 L679.75,22.27 L681.37,20.55 L682.98,18.82 L684.60,17.10 L686.21,15.38 L687.83,13.65 L689.44,11.93 L691.05,10.20 L692.67,8.48 L694.28,6.75 L695.90,5.03 L697.51,3.30 L699.13,1.58 L700.74,-0.15 L702.35,-1.87 L703.97,-3.60 L705.58,-5.32 L707.20,-7.04 L708.81,-8.77" fill="none" stroke="#000" stroke-width="3" stroke-dasharray="6.4 4.775" stroke-dashoffset="0.6" clip-path="url(#pc)"/><path d="M73,451.9 C73.55,451.83 73.58,451.90 76.3,451.5 C79.02,451.10 84.83,450.42 89.3,449.5 C93.77,448.58 98.53,446.87 103.1,446 C107.67,445.13 112.10,444.53 116.7,444.3 C121.30,444.07 126.05,444.32 130.7,444.6 C135.35,444.88 139.95,445.33 144.6,446 C149.25,446.67 154.07,447.40 158.6,448.6 C163.13,449.80 167.58,451.35 171.8,453.2 C176.02,455.05 180.12,457.10 183.9,459.7 C187.68,462.30 191.63,465.33 194.5,468.8 C197.37,472.27 199.50,476.28 201.1,480.5 C202.70,484.72 203.53,491.22 204.1,494.1 C204.67,496.98 204.43,497.18 204.5,497.8" fill="none" stroke="#1f90f0" stroke-width="2.7" stroke-dasharray="7 6.9"/><rect x="64.6" y="0.8" width="636.1999999999999" height="520.6" fill="none" stroke="#000" stroke-width="1.4"/><path d="M64.6,521.40h12M700.8,521.40h-12M64.6,428.40h6M700.8,428.40h-6M64.6,335.40h12M700.8,335.40h-12M64.6,242.40h6M700.8,242.40h-6M64.6,149.40h12M700.8,149.40h-12M64.6,56.40h6M700.8,56.40h-6M64.70,521.4v-12M64.70,0.8v12M164.10,521.4v-6M164.10,0.8v6M263.50,521.4v-12M263.50,0.8v12M362.90,521.4v-6M362.90,0.8v6M462.30,521.4v-12M462.30,0.8v12M561.70,521.4v-6M561.70,0.8v6M661.10,521.4v-12M661.10,0.8v12" stroke="#000" stroke-width="1.4" fill="none"/><g font-family="Liberation Sans, Arial, sans-serif" font-size="22.4" fill="#000"><text x="45.15" y="529.10">0</text><text x="45.15" y="343.10"><tspan dx="1.01">1</tspan></text><text x="45.15" y="157.10">2</text><text x="49.13" y="549.2">0.0</text><text x="247.93" y="549.2">0.5</text><text x="446.73" y="549.2"><tspan dx="1.01">1</tspan><tspan dx="-1.01">.0</tspan></text><text x="645.53" y="549.2"><tspan dx="1.01">1</tspan><tspan dx="-1.01">.5</tspan></text></g><text x="383" y="585.7" text-anchor="middle" font-family="Liberation Sans, Arial, sans-serif" font-size="22.2" fill="#000"><tspan font-style="italic">H</tspan> (T)</text><text transform="translate(18.9,251.8) rotate(-90)" text-anchor="middle" font-family="Liberation Sans, Arial, sans-serif" font-size="22.2" fill="#000"><tspan font-style="italic">T</tspan> (K)</text><g font-family="Liberation Sans, Arial, sans-serif" font-size="32.6" fill="#000"><text x="164.9" y="172.4" textLength="131.4" lengthAdjust="spacingAndGlyphs">quantum</text><text x="164.9" y="212.6" textLength="95.7" lengthAdjust="spacingAndGlyphs">critical</text></g><g font-family="Liberation Sans, Arial, sans-serif" font-size="32.6" fill="#fff"><text x="447.0" y="414.8" textLength="131.5" lengthAdjust="spacingAndGlyphs">quantum</text><text x="446.1" y="455.3" textLength="205.4" lengthAdjust="spacingAndGlyphs">paramagnetic</text></g><defs><linearGradient id="cbg" x1="0" y1="0" x2="0" y2="1"><stop offset="0.0011" stop-color="#f81820"/><stop offset="0.0226" stop-color="#f81c20"/><stop offset="0.0593" stop-color="#f83020"/><stop offset="0.1026" stop-color="#f86020"/><stop offset="0.1371" stop-color="#f88020"/><stop offset="0.1716" stop-color="#f8a020"/><stop offset="0.1977" stop-color="#f8c820"/><stop offset="0.2233" stop-color="#f8f020"/><stop offset="0.2489" stop-color="#e0f820"/><stop offset="0.2839" stop-color="#b0f818"/><stop offset="0.3184" stop-color="#80f818"/><stop offset="0.3529" stop-color="#50f818"/><stop offset="0.3874" stop-color="#28f818"/><stop offset="0.4213" stop-color="#18f818"/><stop offset="0.5075" stop-color="#18f820"/><stop offset="0.5412" stop-color="#20f860"/><stop offset="0.5765" stop-color="#20f8a0"/><stop offset="0.6115" stop-color="#20f8d0"/><stop offset="0.6379" stop-color="#20f8f8"/><stop offset="0.6907" stop-color="#20f8ff"/><stop offset="0.7258" stop-color="#18d8ff"/><stop offset="0.7519" stop-color="#18b0ff"/><stop offset="0.7783" stop-color="#1880ff"/><stop offset="0.8047" stop-color="#1858ff"/><stop offset="0.8308" stop-color="#1430ff"/><stop offset="0.8658" stop-color="#1010ff"/><stop offset="0.9098" stop-color="#1010ff"/><stop offset="0.945" stop-color="#3010ff"/><stop offset="0.9801" stop-color="#6010ff"/><stop offset="1" stop-color="#8010ff"/></linearGradient></defs><rect x="733.4" y="3.6" width="19.8" height="371.2" fill="url(#cbg)" stroke="#000" stroke-width="1.4"/><path d="M753.2,44.3h11.6M753.2,91.1h11.6M753.2,161.5h11.6M753.2,234.9h11.6M753.2,331.6h11.6" stroke="#000" stroke-width="1.6"/><g font-family="Liberation Sans, Arial, sans-serif" font-size="17.6" fill="#000"><text x="768.3" y="49.7">3</text><text x="768.3" y="96.5">2</text><text x="768.3" y="166.9"><tspan dx="0.79">1</tspan></text><text x="768.3" y="240.3">0.5</text><text x="768.3" y="337.0">0.2</text></g><g transform="translate(801.4,0) rotate(90)" font-family="Liberation Sans, Arial, sans-serif" font-size="23.1" fill="#000"><text x="134.2" y="0" font-family="Liberation Serif, serif" font-size="24.5">&#915;</text><text x="147.9" y="4.6" font-size="16.7">H</text><text x="159.4" y="0">/</text><text x="166.2" y="0" font-style="italic">H</text><text x="187.8" y="0">(<tspan dx="1.04">1</tspan><tspan dx="-1.04">/T</tspan></text><text x="228" y="-14.6" font-size="16.5">2</text><text x="237.2" y="0">)</text><g fill="#fff"><rect x="197.69" y="-2.43" width="4.55" height="3.23"/><rect x="204.46" y="-2.43" width="4.39" height="3.23"/></g></g><g fill="#fff"><rect x="47.27" y="340.75" width="4.41" height="3.14"/><rect x="53.84" y="340.75" width="4.26" height="3.14"/><rect x="448.86" y="546.85" width="4.41" height="3.14"/><rect x="455.42" y="546.85" width="4.26" height="3.14"/><rect x="647.66" y="546.85" width="4.41" height="3.14"/><rect x="654.22" y="546.85" width="4.26" height="3.14"/><rect x="769.97" y="165.05" width="3.47" height="2.46"/><rect x="775.13" y="165.05" width="3.34" height="2.46"/></g></svg></body></html>
